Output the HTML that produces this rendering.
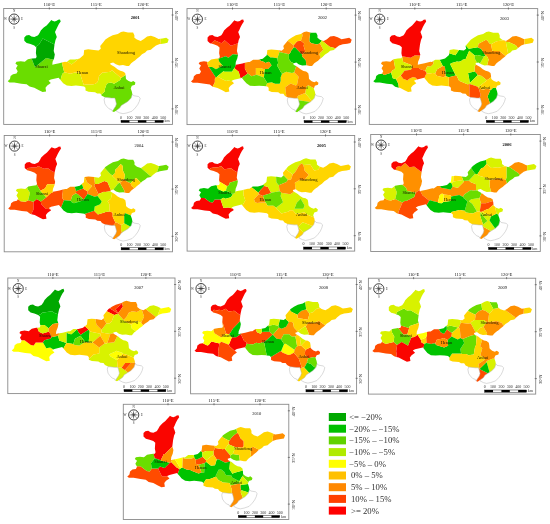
<!DOCTYPE html>
<html><head><meta charset="utf-8"><style>
html,body{margin:0;padding:0;background:#fff;}
svg{display:block;filter:blur(0.3px);}
text{font-family:"Liberation Serif",serif;fill:#222;}
.tk{font-size:4.6px;fill:#111;}
.cp{font-size:3.2px;fill:#333;}
.yr{font-size:4.5px;fill:#111;}
.b{font-weight:bold;}
.sb{font-size:4.0px;fill:#333;}
.pv{font-size:4.5px;fill:#1a1400;}
.lg{font-size:8.7px;fill:#303030;}
</style></head><body>
<svg width="550" height="524" viewBox="0 0 550 524">
<rect width="550" height="524" fill="#fff"/>
<g transform="matrix(1.0000 0 0 1.0000 0.00 0.00)"><path fill="#6add00" d="M121,78.1 120.2,79.9 114.1,83.7 111.3,82.4 107.6,83.3 106.5,84.3 104.8,89.3 104.8,91.6 101.1,94.7 101.8,95.7 104.9,97.3 111.5,98.1 114.8,98.1 115.6,100.6 116.4,103.9 115.6,106.3 113.9,108.8 112.3,111.2 113.9,112 116.4,110.4 119.7,108 121.3,105.5 123.8,103.9 127.9,101.4 131.1,98.1 131.8,96 132.3,94.1 131.8,91.5 130.7,88.4 131.8,85.7 134.9,84.7 135.4,82.6 133.3,81 131.2,82 128.6,81 126.5,79.4 125.9,78.5 125.7,75.7 125.5,74.9ZM62.2,74 64.2,72.3 61.8,62.6 59.2,63.3 55.5,64 52.3,64.7 52.6,61.8 53.5,59.7 46.2,57.9 35.5,66.8 34.6,66.3 31.6,58.6 27.9,59.3 24.8,61.8 20.7,61.2 16.5,61.8 15.4,63.6 17.7,65.4 16,68.3 17.7,71.3 16.5,73.6 13,74.2 10.6,76 10,79 7.7,81.3 9.5,82.5 14.2,82.5 21.3,83.7 26.6,84.3 29.6,86.6 34.3,87.8 39,90.2 42.6,92 46.1,91.4 45.5,87.8 47.3,85.5 50.8,83.1 48.5,80.7 50.8,79.6 58.6,77.7 60.5,80Z"/><path fill="#00c300" d="M39,44.6 42.7,38.6 54.5,44.5 54.5,44.4 55.5,39.9 56.8,37 56.1,34.9 55,32 56.1,29.8 57.4,26.9 58.9,24.1 60.7,21.5 60,19.4 58.2,19.7 56.7,20.8 54.6,21.5 52.4,20.8 51.3,20.1 50.3,21.2 48.4,23.4 46.6,25.4 43.7,27.6 40.8,30.5 39.7,32.7 38.3,34.9 37.7,35.5 34.3,37 31.5,36.5 29.1,35 26.2,35.5 24.3,37.4 24.3,40.8 26.7,43.1 30.5,44.1 34.3,45.5 35.8,46.9Z"/><path fill="#00a800" d="M34.6,66.3 35.5,66.8 46.2,57.9 53.5,59.7 54.1,58.2 54.8,54.5 53.7,50.9 54.5,44.5 42.7,38.6 39,44.6 35.8,46.9 36.3,47.3 35.9,53.1 36.6,56.7 35.9,58.2 32.3,58.5 31.6,58.6Z"/><path fill="#d8f200" d="M71.6,64.4 78.7,58.7 75,59.6 69.9,59.6 67.2,61.4ZM60.5,80 60.5,80 63.2,83.2 66.8,85.5 71.4,85.9 75.9,85.5 80.5,85.9 84.1,86.4 85.5,87.7 85.5,90.5 88.6,91.8 95.1,92.2 97.1,93.5 100.3,93.6 101.1,94.7 104.8,91.6 104.8,89.3 106.5,84.3 107.6,83.3 111.3,82.4 114.1,83.7 120.2,79.9 121,78.1 112,70.3 110.4,71.7 102.9,72.7 102.4,72.6 99,76 98.4,79.8 97.6,82.1 95.5,83.8 94.5,83.9 94.2,83.9 92.7,84.5 85.3,84.5 83.8,85 79.6,72.5 77.5,72.8 74.8,72.4 70.5,73.7 64.2,72.3 62.2,74ZM160.9,44 164.3,43.5 167.5,42.8 168.7,39.6 166.2,37.7 162.4,38.4 160.3,38.7Z"/><path fill="#ffd500" d="M71.6,64.4 67.2,61.4 66.5,61.9 65,61.8 61.8,62.6 64.2,72.3 70.5,73.7 74.8,72.4 77.5,72.8 79.6,72.5 83.8,85 85.3,84.5 92.7,84.5 94.2,83.9 94.5,83.9 95.5,83.8 97.6,82.1 98.4,79.8 99,76 102.4,72.6 102.9,72.7 110.4,71.7 112,70.3 121,78.1 125.5,74.9 125.2,73 123,71.4 120.3,70.8 117.5,69.2 114.8,67 110.5,64.5 110.2,63.2 113.2,62.4 115.9,64.3 119.2,65.4 123,65.1 126.8,65.9 129,65.9 131.2,63.2 133.4,61.5 135,60.5 136.9,58.7 139.5,56.8 142,54.3 145.2,52.4 147.1,50.5 150.9,49.8 152.8,47.9 156,45.4 159.8,44.1 160.9,44 160.3,38.7 158.5,39 154.7,37.1 150.9,35.8 147.1,36.5 143.9,39 140.7,40.9 136.9,39.6 134.4,37.7 134.4,35.2 133.1,32.6 128,32.6 123.5,31.4 121,32 117.8,33.9 112.7,35.2 108.8,37.3 105.4,39.6 103.1,42.4 100.2,45.9 100.8,48.7 98.5,50.5 93.9,49.9 88.2,49.3 84.2,49.9 83.6,55 79.6,58.5 78.7,58.7Z"/><path fill="none" stroke="#b4b4b4" stroke-width="0.5" d="M104.9,97.3 111.5,98.1 114.8,98.1 115.6,100.6 116.4,103.9 115.6,106.3 113.9,108.8 112.3,111.2 111.5,109.6 109,108.8 106.6,106.3 104.9,103.9 104.1,99.8ZM132.3,94.1 133.6,95.7 138.5,96.5 140.2,98.1 139.3,101.4 137.7,104.7 135.2,108 132,111.2 127,112.9 123,113.7 119.7,112.9 116.4,111.2 116.4,110.4 119.7,108 121.3,105.5 123.8,103.9 127.9,101.4 131.1,98.1 131.8,96Z"/></g><rect x="3.7" y="8.5" width="168.8" height="115.9" fill="none" stroke="#8a8a8a" stroke-width="0.9"/><line x1="49.3" y1="7.3" x2="49.3" y2="9.5" stroke="#444" stroke-width="0.6"/><text x="49.3" y="6.1" class="tk" text-anchor="middle">110°E</text><line x1="96.2" y1="7.3" x2="96.2" y2="9.5" stroke="#444" stroke-width="0.6"/><text x="96.2" y="6.1" class="tk" text-anchor="middle">115°E</text><line x1="143.1" y1="7.3" x2="143.1" y2="9.5" stroke="#444" stroke-width="0.6"/><text x="143.1" y="6.1" class="tk" text-anchor="middle">120°E</text><line x1="171.5" y1="15.0" x2="173.7" y2="15.0" stroke="#444" stroke-width="0.6"/><text transform="translate(178.3 15.6) rotate(-90)" class="tk" text-anchor="middle">40°N</text><line x1="171.5" y1="62.0" x2="173.7" y2="62.0" stroke="#444" stroke-width="0.6"/><text transform="translate(178.3 62.6) rotate(-90)" class="tk" text-anchor="middle">35°N</text><line x1="171.5" y1="108.9" x2="173.7" y2="108.9" stroke="#444" stroke-width="0.6"/><text transform="translate(178.3 109.5) rotate(-90)" class="tk" text-anchor="middle">30°N</text><g transform="translate(14.1 19.1)"><circle r="5.1" fill="none" stroke="#3a3a3a" stroke-width="0.95"/><path d="M0,-5L0.55,-0.55L5,0L0.55,0.55L0,5L-0.55,0.55L-5,0L-0.55,-0.55Z" fill="#333"/><path d="M-3.6,-3.6L3.6,3.6M3.6,-3.6L-3.6,3.6" stroke="#555" stroke-width="0.5"/><text y="-7.1" class="cp" text-anchor="middle">N</text><text y="9.6" class="cp" text-anchor="middle">S</text><text x="8.0" y="1.1" class="cp" text-anchor="middle">E</text><text x="-8.6" y="1.1" class="cp" text-anchor="middle">W</text></g><text x="135.2" y="18.8" class="yr b" text-anchor="middle">2001</text><rect x="121.00" y="120.30" width="42.25" height="2.2" fill="#fff" stroke="#111" stroke-width="0.45"/><rect x="121.00" y="120.30" width="8.45" height="2.2" fill="#000"/><rect x="137.90" y="120.30" width="8.45" height="2.2" fill="#000"/><rect x="154.80" y="120.30" width="8.45" height="2.2" fill="#000"/><text x="121.0" y="118.7" class="sb" text-anchor="middle">0</text><text x="129.4" y="118.7" class="sb" text-anchor="middle">100</text><text x="137.9" y="118.7" class="sb" text-anchor="middle">200</text><text x="146.3" y="118.7" class="sb" text-anchor="middle">300</text><text x="154.8" y="118.7" class="sb" text-anchor="middle">400</text><text x="163.2" y="118.7" class="sb" text-anchor="middle">500</text><text x="164.4" y="122.4" class="sb">km</text><text x="41.5" y="67.5" class="pv" text-anchor="middle">Shanxi</text><text x="82.5" y="74.0" class="pv" text-anchor="middle">Henan</text><text x="126.0" y="54.0" class="pv" text-anchor="middle">Shandong</text><text x="119.0" y="89.0" class="pv" text-anchor="middle">Anhui</text><g transform="matrix(0.9982 0 0 1.0009 183.31 0.09)"><path fill="#ff4b00" d="M35.1,58.6 42.5,56.1 45.2,57.7 49.7,54 54.8,54.5 53.7,50.9 54.5,44.4 54.8,43.1 47.7,45.5 41.4,40.2 38.2,43 31.3,40 27.9,43.4 30.5,44.1 34.3,45.5 36.3,47.3 35.9,53.1 36.6,56.7 35.9,58.2 34.9,58.3ZM31.6,82.1 31.6,78.5 32.6,77.3 25.7,66.9 25,66.7 23.8,61.7 20.7,61.2 16.5,61.8 15.4,63.6 17.7,65.4 16,68.3 17.7,71.3 16.5,73.6 13,74.2 10.6,76 10,79 7.7,81.3 9.5,82.5 14.2,82.5 21.3,83.7 26.6,84.3 29.4,86.5ZM138.8,40.4 146.6,46.7 151.4,47.9 152.3,48.4 152.8,47.9 156,45.4 159.8,44.1 164.3,43.5 167.5,42.8 168.7,39.6 166.2,37.7 162.4,38.4 158.5,39 154.7,37.1 150.9,35.8 147.1,36.5 143.9,39 140.7,40.9 138.8,40.3ZM110.5,45.1 110.8,47 112.3,47.6 119.1,54.5 122.2,51.4 120.5,45.6 121.1,43.3 117.8,40.5 114,41Z"/><path fill="#fa0500" d="M31.3,40 38.2,43 41.4,40.2 47.7,45.5 54.8,43.1 55.5,39.9 56.8,37 56.1,34.9 55,32 56.1,29.8 57.4,26.9 58.9,24.1 60.7,21.5 60,19.4 58.2,19.7 56.7,20.8 54.6,21.5 52.4,20.8 51.3,20.1 50.3,21.2 48.4,23.4 46.6,25.4 43.7,27.6 40.8,30.5 39.7,32.7 38.3,34.9 37.7,35.5 34.3,37 31.5,36.5 29.1,35 26.2,35.5 24.3,37.4 24.3,40.8 26.7,43.1 27.9,43.4ZM64.5,73.5 61.7,68.6 61.7,62.7 59.2,63.3 55.5,64 52.7,64.6 51.2,68 55.5,71.6 57.3,78 58.6,77.7Z"/><path fill="#ffd500" d="M87.2,57.4 89.4,57.4 94.2,58 96.4,51.8 95.9,50.2 93.9,49.9 88.2,49.3 84.2,49.9 83.7,54.1 84.3,54.9ZM110.5,45.1 114,41 117.8,40.5 119.5,35.4 118.9,33.2 117.8,33.9 112.7,35.2 108.8,37.3 105.4,39.6 104.6,40.6ZM39.6,65.7 36,61.6 35.1,58.6 34.9,58.3 32.3,58.5 27.9,59.3 24.8,61.8 23.8,61.7 25,66.7 25.7,66.9 28.9,66.9 32.7,69.2ZM77.5,67.9 72.7,67.9 72.7,74.7 74.8,75 80.7,77.4 81.7,69.2 78.3,68.3ZM103.1,95.3 102.1,87 107.5,83.3 112.6,85.4 113.9,84.5 115.5,76.6 111,72.1 108.9,72.9 103.1,71.7 102.6,71.8 99.2,73.5 98.9,73.6 97.5,77.1 97.5,80.9 96.5,83.5 92,83.6 88.5,82.1 84.1,82.9 82.7,86.2 84.1,86.4 85.5,87.7 85.5,90.5 88.6,91.8 95.1,92.2 97.1,93.5 100.3,93.6 101.8,95.7 102.9,96.3ZM48.8,81 44.7,80.4 42.8,80.9 34,76.4 32.6,77.3 31.6,78.5 31.6,82.1 29.4,86.5 29.6,86.6 34.3,87.8 39,90.2 42.6,92 46.1,91.4 45.5,87.8 47.3,85.5 50.8,83.1 48.8,81ZM127.1,101.9 127.9,101.4 128.7,100.6 122.1,92.9 115,95.6 113.6,98.1 114.8,98.1 115.4,100Z"/><path fill="#00c300" d="M85.8,61.5 88.4,65 84.8,68.8 82.2,68.8 81.7,69.2 80.7,77.4 80.7,77.4 80.9,77.6 84.1,82.9 88.5,82.1 92,83.6 96.5,83.5 97.5,80.9 97.5,77.1 98.9,73.6 98.2,72.9 94.1,65.6 94,64.9 95,63 94.2,58.1 94.2,58 89.4,57.4 87.2,57.4 84.3,54.9 83.7,54.1 83.6,55 79.6,58.5 76.1,59.3 77.5,60.7 81,61.9 82.2,62.9ZM42.5,56.1 35.1,58.6 36,61.6 39.6,65.7 32.7,69.2 28.9,66.9 25.7,66.9 32.6,77.3 34,76.4 34.1,76.2 40.3,71 41.2,71.7 48.8,71.7 51,68.1 51.2,68 52.7,64.6 52.3,64.7 52.6,61.8 54.1,58.2 54.8,54.5 54.8,54.5 49.7,54 45.2,57.7ZM126.3,38.8 126.3,38.8 126.3,41.3 128.4,43.2 134.2,44.4 136.8,43.1 138.8,40.4 138.8,40.3 136.9,39.6 134.4,37.7 134.4,35.2 133.1,32.6 128,32.6 127.2,32.4ZM110.7,63.1 113.2,62.4 115.9,64.3 119.2,65.4 123,65.1 123.3,65.2 122.7,60 118.8,56 119.1,54.5 112.3,47.6 110.8,47 107.8,50.8 107.2,52.6 105.8,54.2 105.8,58.5 105.9,59.2 108,61.8ZM113,66.3 113.8,66.4 112.8,65.8Z"/><path fill="#d8f200" d="M137.8,58 139.5,56.8 142,54.3 145.2,52.4 147.1,50.5 150.9,49.8 152.3,48.4 151.4,47.9 146.6,46.7 138.8,40.4 136.8,43.1 140.2,49.7 136.1,53.8ZM48.8,81 48.8,81 48.5,80.7 50.8,79.6 57.3,78 55.5,71.6 51.2,68 51,68.1 48.8,71.7 41.2,71.7 40.3,71 34.1,76.2 34,76.4 42.8,80.9 44.7,80.4ZM122.1,92.9 128.7,100.6 131.1,98.1 131.8,96 132.3,94.1 131.8,91.5 130.7,88.4 130.9,88 125.3,85.2 123.4,86.4Z"/><path fill="#ff9000" d="M107.8,50.8 110.8,47 110.5,45.1 104.6,40.6 103.1,42.4 100.2,45.9 100.8,48.7 98.5,50.5 95.9,50.2 96.4,51.8 105.8,54.2 107.2,52.6ZM64.5,73.5 65,73.6 68.3,76 71.9,75.2 72.7,74.7 72.7,67.9 77.5,67.9 78.3,68.3 81.7,69.2 82.2,68.8 84.8,68.8 88.4,65 85.8,61.5 82.2,62.9 81,61.9 77.5,60.7 76.1,59.3 75,59.6 69.9,59.6 66.5,61.9 65,61.8 61.7,62.7 61.7,68.6ZM111,72.1 115.5,76.6 113.9,84.5 112.6,85.4 107.5,83.3 102.1,87 103.1,95.3 102.9,96.3 104.9,97.3 111.5,98.1 113.6,98.1 115,95.6 122.1,92.9 123.4,86.4 125.3,85.2 130.9,88 131.8,85.7 134.9,84.7 135.4,82.6 133.3,81 131.2,82 128.6,81 126.5,79.4 125.9,78.5 125.7,75.7 125.2,73 123,71.4 120.3,70.8 117.5,69.2 114.8,67 113.8,66.4 113,66.3ZM136.1,53.8 140.2,49.7 136.8,43.1 134.2,44.4 128.4,43.2 126.3,41.3 126.3,38.8 126.3,38.8 127.2,32.4 123.5,31.4 121,32 118.9,33.2 119.5,35.4 117.8,40.5 121.1,43.3 120.5,45.6 122.2,51.4 119.1,54.5 118.8,56 122.7,60 123.3,65.2 126.8,65.9 129,65.9 131.2,63.2 133.4,61.5 135,60.5 136.9,58.7 137.8,58Z"/><path fill="#6add00" d="M96.4,51.8 94.2,58 94.2,58.1 95,63 94,64.9 94.1,65.6 98.2,72.9 98.9,73.6 99.2,73.5 102.6,71.8 103.1,71.7 108.9,72.9 111,72.1 113,66.3 112.8,65.8 110.5,64.5 110.2,63.2 110.7,63.1 108,61.8 105.9,59.2 105.8,58.5 105.8,54.2ZM72.7,74.7 71.9,75.2 68.3,76 65,73.6 64.5,73.5 58.6,77.7 58.6,77.7 60.5,80 63.2,83.2 66.8,85.5 71.4,85.9 75.9,85.5 80.5,85.9 82.7,86.2 84.1,82.9 80.9,77.6 80.7,77.4 80.7,77.4 74.8,75ZM115.4,100 115.6,100.6 116.4,103.9 115.6,106.3 113.9,108.8 112.3,111.2 113.9,112 116.4,110.4 119.7,108 121.3,105.5 123.8,103.9 127.1,101.9Z"/><path fill="none" stroke="#b4b4b4" stroke-width="0.5" d="M104.9,97.3 111.5,98.1 114.8,98.1 115.6,100.6 116.4,103.9 115.6,106.3 113.9,108.8 112.3,111.2 111.5,109.6 109,108.8 106.6,106.3 104.9,103.9 104.1,99.8ZM132.3,94.1 133.6,95.7 138.5,96.5 140.2,98.1 139.3,101.4 137.7,104.7 135.2,108 132,111.2 127,112.9 123,113.7 119.7,112.9 116.4,111.2 116.4,110.4 119.7,108 121.3,105.5 123.8,103.9 127.9,101.4 131.1,98.1 131.8,96Z"/></g><rect x="187.0" y="8.6" width="168.5" height="116.0" fill="none" stroke="#8a8a8a" stroke-width="0.9"/><line x1="232.5" y1="7.4" x2="232.5" y2="9.6" stroke="#444" stroke-width="0.6"/><text x="232.5" y="6.2" class="tk" text-anchor="middle">110°E</text><line x1="279.3" y1="7.4" x2="279.3" y2="9.6" stroke="#444" stroke-width="0.6"/><text x="279.3" y="6.2" class="tk" text-anchor="middle">115°E</text><line x1="326.2" y1="7.4" x2="326.2" y2="9.6" stroke="#444" stroke-width="0.6"/><text x="326.2" y="6.2" class="tk" text-anchor="middle">120°E</text><line x1="354.5" y1="15.1" x2="356.7" y2="15.1" stroke="#444" stroke-width="0.6"/><text transform="translate(361.3 15.7) rotate(-90)" class="tk" text-anchor="middle">40°N</text><line x1="354.5" y1="62.1" x2="356.7" y2="62.1" stroke="#444" stroke-width="0.6"/><text transform="translate(361.3 62.7) rotate(-90)" class="tk" text-anchor="middle">35°N</text><line x1="354.5" y1="109.1" x2="356.7" y2="109.1" stroke="#444" stroke-width="0.6"/><text transform="translate(361.3 109.7) rotate(-90)" class="tk" text-anchor="middle">30°N</text><g transform="translate(197.4 19.2)"><circle r="5.1" fill="none" stroke="#3a3a3a" stroke-width="0.95"/><path d="M0,-5L0.55,-0.55L5,0L0.55,0.55L0,5L-0.55,0.55L-5,0L-0.55,-0.55Z" fill="#333"/><path d="M-3.6,-3.6L3.6,3.6M3.6,-3.6L-3.6,3.6" stroke="#555" stroke-width="0.5"/><text y="-7.1" class="cp" text-anchor="middle">N</text><text y="9.6" class="cp" text-anchor="middle">S</text><text x="8.0" y="1.1" class="cp" text-anchor="middle">E</text><text x="-8.6" y="1.1" class="cp" text-anchor="middle">W</text></g><text x="322.4" y="19.3" class="yr" text-anchor="middle">2002</text><rect x="304.09" y="120.50" width="42.17" height="2.2" fill="#fff" stroke="#111" stroke-width="0.45"/><rect x="304.09" y="120.50" width="8.43" height="2.2" fill="#000"/><rect x="320.96" y="120.50" width="8.43" height="2.2" fill="#000"/><rect x="337.83" y="120.50" width="8.43" height="2.2" fill="#000"/><text x="304.1" y="118.9" class="sb" text-anchor="middle">0</text><text x="312.5" y="118.9" class="sb" text-anchor="middle">100</text><text x="321.0" y="118.9" class="sb" text-anchor="middle">200</text><text x="329.4" y="118.9" class="sb" text-anchor="middle">300</text><text x="337.8" y="118.9" class="sb" text-anchor="middle">400</text><text x="346.3" y="118.9" class="sb" text-anchor="middle">500</text><text x="347.5" y="122.6" class="sb">km</text><text x="224.7" y="67.7" class="pv" text-anchor="middle">Shanxi</text><text x="265.7" y="74.2" class="pv" text-anchor="middle">Henan</text><text x="309.1" y="54.1" class="pv" text-anchor="middle">Shandong</text><text x="302.1" y="89.2" class="pv" text-anchor="middle">Anhui</text><g transform="matrix(0.9976 0 0 0.9991 365.61 0.11)"><path fill="#00c300" d="M83.4,77.3 90.4,75.5 84.8,64.3 85.5,63.1 91.6,61.4 93.3,61.8 95.5,61.3 97.3,59.7 100.3,58.9 103.8,50.6 109.7,55.8 111.9,54.9 118.7,56.4 120.2,55.7 115.8,48.7 113.1,47.7 112.5,47.2 103.4,48.7 100.5,45.5 100.2,45.9 100.8,48.7 98.5,50.5 93.9,49.9 93.6,49.9 90,55.2 83.8,53.2 83.6,55 79.6,58.5 75,59.6 74.2,59.6 77.4,65.9 79.5,66.7 80.4,76.2ZM32.8,83.6 30.6,79.2 27.2,78.3 25.6,72.6 18.6,75 16.5,73.5 16.5,73.6 13,74.2 10.6,76 10,79 7.7,81.3 9.5,82.5 14.2,82.5 21.3,83.7 26.6,84.3 29.6,86.6 33.3,87.6ZM112.5,74.9 111,72.9 110.3,72.3 109.3,71.4 102.7,73 103.9,79.2 104.4,83ZM127.7,87.7 125.8,89.6 125.2,89.7 122.2,96.5 122.9,98.2 124.7,103.4 127.9,101.4 131.1,98.1 131.8,96 132.3,94.1 131.8,91.5 130.7,88.4 130.9,87.9Z"/><path fill="#ff9000" d="M68.1,63.7 68.1,60.8 66.5,61.9 65,61.8 59.2,63.3 55.5,64 52.3,64.7 52.6,61.8 54.1,58.2 54.6,55.4 49.5,55.1 45.1,57.6 36.5,56.3 37.5,61.6 45.7,64.9 46.5,68 53.4,68 54.2,69 57.1,69.9 59.8,71 61.7,66.5 63,66.4 65.2,66.6ZM28,59.3 27.9,59.3 24.8,61.8 20.7,61.2 16.5,61.8 15.4,63.6 17.7,65.4 16,68.3 17.7,71.3 16.5,73.5 18.6,75 25.6,72.6 26.4,70.9 27.5,69.9 28.3,69.6 29.7,68.1ZM109.3,65.8 109.3,71.4 110.3,72.3 111,72.9 112.5,74.9 115.2,75.8 115.9,75.8 121.2,80 122.4,79.7 125.8,77.3 125.7,75.7 125.2,73 123,71.4 120.3,70.8 117.5,69.2 114.8,67 110.8,64.7ZM134.1,51 127.4,51 127,50.8 125.7,44.3 124,43.2 122.3,40.8 120.7,39.8 113.1,43.6 112.5,47.2 113.1,47.7 115.8,48.7 120.2,55.7 121.4,55.7 123.3,59.4 121.8,65.2 123,65.1 126.8,65.9 129,65.9 131.2,63.2 133.4,61.5 135,60.5 136.9,58.7 139.5,56.8 140.3,56ZM71.7,69.1 69.7,73.3 71.3,75.6 77.7,77.1 80.4,76.2 79.5,66.7 77.4,65.9ZM90.4,75.5 83.4,77.3 83.4,86.3 84.1,86.4 85.5,87.7 85.5,90.5 88.6,91.8 95.1,92.2 97.1,93.5 100.3,93.6 101.8,95.7 104,96.8 104,84 102,84.2 93.7,80.6 91.3,75.7ZM122.9,98.2 122.2,96.5 125.2,89.7 122.1,88.4 118.2,89.4 113.5,88.8 115.4,95.3 114,98.1 114.8,98.1 115.6,100.6 116.4,103.9 115.6,106.3 113.9,108.8 112.3,111.2 113.9,112 116.4,110.4 119.7,108 121.3,105.5 123.8,103.9 124.7,103.4ZM150.6,45.3 152.6,48.1 152.8,47.9 156,45.4 159.2,44.3 159.2,38.9 158.5,39 154.7,37.1 150.9,35.8 147.1,36.5 143.9,39 140.7,40.9 138.8,40.3 139.2,40.8 140.5,41.6 144,42.1Z"/><path fill="#fa0500" d="M36.5,56.3 45.1,57.6 49.5,55.1 54.6,55.4 54.8,54.5 53.7,50.9 54.5,44.4 55.5,39.9 56.8,37 56.1,34.9 55,32 56.1,29.8 57.4,26.9 58.9,24.1 60.7,21.5 60,19.4 58.2,19.7 56.7,20.8 54.6,21.5 52.4,20.8 51.3,20.1 50.3,21.2 48.4,23.4 46.6,25.4 43.7,27.6 40.8,30.5 39.7,32.7 38.3,34.9 37.7,35.5 34.3,37 31.5,36.5 29.1,35 26.2,35.5 24.3,37.4 24.3,40.8 26.7,43.1 30.5,44.1 34.3,45.5 36.3,47.3 35.9,53.1 36.5,56.2Z"/><path fill="#d8f200" d="M90,55.2 93.6,49.9 88.2,49.3 84.2,49.9 83.8,53.2ZM103.4,48.7 112.5,47.2 113.1,43.6 120.7,39.8 122.3,40.8 124,43.2 125.7,44.3 131.3,41.1 138.6,40.2 136.9,39.6 134.4,37.7 134.4,35.2 133.1,32.6 128,32.6 123.5,31.4 121,32 117.8,33.9 112.7,35.2 108.8,37.3 105.4,39.6 103.1,42.4 100.5,45.5ZM68.1,63.7 65.2,66.6 63,66.4 61.7,66.5 59.8,71 61.2,73.3 64.3,73.5 66.9,72.9 69.7,73.3 71.7,69.1 77.4,65.9 74.2,59.6 69.9,59.6 68.1,60.8ZM45.7,64.9 37.5,61.6 36.5,56.3 36.5,56.2 36.6,56.7 35.9,58.2 32.3,58.5 28,59.3 29.7,68.1 28.3,69.6 27.5,69.9 26.4,70.9 25.6,72.6 27.2,78.3 30.6,79.2 34.3,75.6 35.3,75.5 38.5,71.5 38.7,70.6 45.4,69.6 46.5,68ZM91.6,61.4 85.5,63.1 84.8,64.3 90.4,75.5 91.3,75.7 93.7,80.6 102,84.2 104,84 104.1,83.9 104.2,83.9 111.7,86.5 112.6,87.1 120.7,81 121.2,80 115.9,75.8 115.2,75.8 112.5,74.9 104.4,83 103.9,79.2 102.7,73 109.3,71.4 109.3,65.8 110.8,64.7 110.5,64.5 110.2,63.2 111.6,62.8 109.2,58.3 109.7,55.8 103.8,50.6 100.3,58.9 97.3,59.7 95.5,61.3 93.3,61.8ZM150.6,45.3 144,42.1 140.5,41.6 142.9,53.8 145.2,52.4 147.1,50.5 150.9,49.8 152.6,48.1ZM121.4,55.7 120.2,55.7 118.7,56.4 114.6,63.4 115.9,64.3 119.2,65.4 121.8,65.2 123.3,59.4Z"/><path fill="#ffd500" d="M32.8,83.6 33.3,87.6 34.3,87.8 39,90.2 42.6,92 46.1,91.4 45.5,87.8 47.3,85.5 50.8,83.1 48.5,80.7 50.8,79.6 51.7,79.4 50.3,77.8 47.5,76.9 43.4,78.9 42.1,80.5 37.7,78.7 35.3,75.5 34.3,75.6 30.6,79.2ZM83.4,77.3 80.4,76.2 77.7,77.1 71.3,75.6 69.7,73.3 66.9,72.9 64.3,73.5 61.2,73.3 60.2,75 58.9,78 60.5,80 63.2,83.2 66.8,85.5 71.4,85.9 75.9,85.5 80.5,85.9 83.4,86.3ZM113.5,88.8 113.5,88.8 118.2,89.4 122.1,88.4 125.2,89.7 125.8,89.6 127.7,87.7 130.9,87.9 131.8,85.7 134.9,84.7 135.4,82.6 133.3,81 131.2,82 128.6,81 126.5,79.4 125.9,78.5 125.8,77.3 122.4,79.7 121.2,80 120.7,81 112.6,87.1ZM159.2,44.3 159.8,44.1 164.3,43.5 167.5,42.8 168.7,39.6 166.2,37.7 162.4,38.4 159.2,38.9ZM140.5,41.6 139.2,40.8 138.8,40.3 138.6,40.2 131.3,41.1 125.7,44.3 127,50.8 127.4,51 134.1,51 140.3,56 142,54.3 142.9,53.8Z"/><path fill="#ff4b00" d="M57.1,69.9 54.2,69 53.4,68 46.5,68 45.4,69.6 38.7,70.6 38.5,71.5 35.3,75.5 37.7,78.7 42.1,80.5 43.4,78.9 47.5,76.9 50.3,77.8 51.7,79.4 58.6,77.7 58.9,78 60.2,75 61.2,73.3 59.8,71ZM104.2,83.9 104.1,83.9 104,84 104,96.8 104.9,97.3 111.5,98.1 114,98.1 115.4,95.3 113.5,88.8 113.5,88.8 112.6,87.1 111.7,86.5Z"/><path fill="#6add00" d="M109.2,58.3 111.6,62.8 113.2,62.4 114.6,63.4 118.7,56.4 111.9,54.9 109.7,55.8Z"/><path fill="none" stroke="#b4b4b4" stroke-width="0.5" d="M104.9,97.3 111.5,98.1 114.8,98.1 115.6,100.6 116.4,103.9 115.6,106.3 113.9,108.8 112.3,111.2 111.5,109.6 109,108.8 106.6,106.3 104.9,103.9 104.1,99.8ZM132.3,94.1 133.6,95.7 138.5,96.5 140.2,98.1 139.3,101.4 137.7,104.7 135.2,108 132,111.2 127,112.9 123,113.7 119.7,112.9 116.4,111.2 116.4,110.4 119.7,108 121.3,105.5 123.8,103.9 127.9,101.4 131.1,98.1 131.8,96Z"/></g><rect x="369.3" y="8.6" width="168.4" height="115.8" fill="none" stroke="#8a8a8a" stroke-width="0.9"/><line x1="414.8" y1="7.4" x2="414.8" y2="9.6" stroke="#444" stroke-width="0.6"/><text x="414.8" y="6.2" class="tk" text-anchor="middle">110°E</text><line x1="461.6" y1="7.4" x2="461.6" y2="9.6" stroke="#444" stroke-width="0.6"/><text x="461.6" y="6.2" class="tk" text-anchor="middle">115°E</text><line x1="508.4" y1="7.4" x2="508.4" y2="9.6" stroke="#444" stroke-width="0.6"/><text x="508.4" y="6.2" class="tk" text-anchor="middle">120°E</text><line x1="536.7" y1="15.1" x2="538.9" y2="15.1" stroke="#444" stroke-width="0.6"/><text transform="translate(543.5 15.7) rotate(-90)" class="tk" text-anchor="middle">40°N</text><line x1="536.7" y1="62.0" x2="538.9" y2="62.0" stroke="#444" stroke-width="0.6"/><text transform="translate(543.5 62.6) rotate(-90)" class="tk" text-anchor="middle">35°N</text><line x1="536.7" y1="108.9" x2="538.9" y2="108.9" stroke="#444" stroke-width="0.6"/><text transform="translate(543.5 109.5) rotate(-90)" class="tk" text-anchor="middle">30°N</text><g transform="translate(379.7 19.2)"><circle r="5.1" fill="none" stroke="#3a3a3a" stroke-width="0.95"/><path d="M0,-5L0.55,-0.55L5,0L0.55,0.55L0,5L-0.55,0.55L-5,0L-0.55,-0.55Z" fill="#333"/><path d="M-3.6,-3.6L3.6,3.6M3.6,-3.6L-3.6,3.6" stroke="#555" stroke-width="0.5"/><text y="-7.1" class="cp" text-anchor="middle">N</text><text y="9.6" class="cp" text-anchor="middle">S</text><text x="8.0" y="1.1" class="cp" text-anchor="middle">E</text><text x="-8.6" y="1.1" class="cp" text-anchor="middle">W</text></g><text x="504.6" y="19.6" class="yr" text-anchor="middle">2003</text><rect x="486.32" y="120.31" width="42.15" height="2.2" fill="#fff" stroke="#111" stroke-width="0.45"/><rect x="486.32" y="120.31" width="8.43" height="2.2" fill="#000"/><rect x="503.18" y="120.31" width="8.43" height="2.2" fill="#000"/><rect x="520.04" y="120.31" width="8.43" height="2.2" fill="#000"/><text x="486.3" y="118.7" class="sb" text-anchor="middle">0</text><text x="494.8" y="118.7" class="sb" text-anchor="middle">100</text><text x="503.2" y="118.7" class="sb" text-anchor="middle">200</text><text x="511.6" y="118.7" class="sb" text-anchor="middle">300</text><text x="520.0" y="118.7" class="sb" text-anchor="middle">400</text><text x="528.5" y="118.7" class="sb" text-anchor="middle">500</text><text x="529.7" y="122.4" class="sb">km</text><text x="407.0" y="67.5" class="pv" text-anchor="middle">Shanxi</text><text x="447.9" y="74.0" class="pv" text-anchor="middle">Henan</text><text x="491.3" y="54.1" class="pv" text-anchor="middle">Shandong</text><text x="484.3" y="89.0" class="pv" text-anchor="middle">Anhui</text><g transform="matrix(0.9970 0 0 1.0035 0.51 126.97)"><path fill="#ff4b00" d="M49.9,66.2 46.1,70 46,70 40.4,74.2 40.9,77 45.4,81.5 49.8,82.1 48.5,80.7 50.8,79.6 58.6,77.7 60.5,80 60.8,80.3 63.7,72.9 62.2,71.3 61.8,69 62.5,64.7 62.6,62.4 59.2,63.3 55.5,64 52.6,64.6 52.2,65.4ZM52.5,44.6 47.6,41.1 43.6,41.7 37.7,38.8 36.3,40.2 31.6,40.4 31.5,40.4 27.4,40.8 25.9,42.3 26.7,43.1 30.5,44.1 34.3,45.5 36.3,47.3 35.9,53.1 36.6,56.7 36.3,57.3 40,63.5 44.8,61.1 46.8,57.1 54.3,57.1 54.8,54.5 53.7,50.9 54.4,44.9ZM33.1,82.2 33.1,74.4 27.7,73 25.1,74.6 20.1,73.9 19.5,73.2 17.3,72 16.5,73.6 13,74.2 10.6,76 10,79 7.7,81.3 9.5,82.5 14.2,82.5 21.3,83.7 26.6,84.3 29.6,86.6 30.9,86.9 31,86.4ZM105.9,54.5 104.3,53.9 97.7,56.9 94.8,56.9 93.9,58.1 98.2,66.8 103.8,64.5 104.7,64.8 110.4,64 110.2,63.2 110.8,63 107.1,54.6ZM83.1,61.3 82.1,61.6 75.9,63.9 75.6,66 77.8,67.3 83.5,72.2 87.4,66.9 87.3,64.1 84.6,62.5ZM84.9,86.5 84.7,87 85.5,87.7 85.5,90.5 88.6,91.8 95.1,92.2 97.1,93.5 100.3,93.6 101.8,95.7 104.9,97.3 111.5,98.1 113.1,98.1 115.3,95.4 112.5,89.5 112.5,86.8 112.3,85.3 109.2,84.3 105.4,84.7 105,84.8 105,84.9 97.7,87.3 93.9,83.5Z"/><path fill="#fa0500" d="M27.4,40.8 31.5,40.4 31.6,40.4 36.3,40.2 37.7,38.8 43.6,41.7 47.6,41.1 52.5,44.6 54.4,44.9 54.5,44.4 55.5,39.9 56.8,37 56.1,34.9 55,32 56.1,29.8 57.4,26.9 58.9,24.1 60.7,21.5 60,19.4 58.2,19.7 56.7,20.8 54.6,21.5 52.4,20.8 51.3,20.1 50.3,21.2 48.4,23.4 46.6,25.4 43.7,27.6 40.8,30.5 39.7,32.7 38.3,34.9 37.7,35.5 34.3,37 31.5,36.5 29.1,35 26.2,35.5 24.3,37.4 24.3,40.8 25.9,42.3ZM45.4,81.5 40.9,77 40.4,74.2 36.4,71.8 33.1,74.4 33.1,82.2 31,86.4 30.9,86.9 34.3,87.8 39,90.2 42.6,92 46.1,91.4 45.5,87.8 47.3,85.5 50.8,83.1 49.8,82.1Z"/><path fill="#d8f200" d="M97.7,56.9 104.3,53.9 105.9,54.5 107.1,54.6 110.8,63 113.2,62.4 113.2,62.4 116.3,58.5 116.6,57.9 119.2,55.7 112.2,48.9 112.3,48.4 109.6,46.3 104.6,40.8 104.5,40.7 103.1,42.4 100.2,45.9 100.8,48.7 98.5,50.5 93.9,49.9 93.8,49.9 94.8,56.9ZM104.7,64.8 103.8,64.5 98.2,66.8 97.3,68.7 101.5,74.3 99.9,77.1 94.5,79.2 93.9,83.5 97.7,87.3 105,84.9 105,84.8 105.4,84.7 109.2,84.3 109.2,77 107.4,73.9 110.7,71.5 112.1,65.4 110.5,64.5 110.4,64ZM19.5,73.2 20.1,73.9 25.1,74.6 27.7,73 29.6,65.5 27.1,61.7 26.7,60.2 24.8,61.8 20.7,61.2 16.5,61.8 15.4,63.6 17.7,65.4 16,68.3 17.7,71.3 17.3,72ZM151.1,49.6 152.8,47.9 156,45.4 157,45 159.1,38.9 158.5,39 154.7,37.1 150.9,35.8 147.1,36.5 143.9,39 140.9,40.8ZM121,103.4 122,105.1 123.8,103.9 127.9,101.4 130.1,99.1 124.1,96 121,97.6Z"/><path fill="#6add00" d="M114.6,46.4 115.5,41.8 116.7,41.5 120.5,37 122.6,39 122.6,43.2 124.6,47.4 124.8,47.6 124,52.1 126.7,54.3 130.4,56.1 135.2,51.2 136.6,51.2 140.8,55.5 142,54.3 145.2,52.4 147.1,50.5 150.9,49.8 151.1,49.6 140.9,40.8 140.7,40.9 136.9,39.6 134.4,37.7 134.4,35.2 133.1,32.6 128,32.6 123.5,31.4 121,32 117.8,33.9 112.7,35.2 108.8,37.3 105.4,39.6 104.5,40.7 104.6,40.8 109.6,46.3 112.3,48.4ZM157,45 159.8,44.1 164.3,43.5 167.5,42.8 168.7,39.6 166.2,37.7 162.4,38.4 159.1,38.9ZM33.1,74.4 36.4,71.8 40.4,74.2 46,70 40,63.9 40,63.5 36.3,57.3 35.9,58.2 32.3,58.5 27.9,59.3 26.7,60.2 27.1,61.7 29.6,65.5 27.7,73ZM124.3,63.5 119.8,55.6 119.2,55.7 116.6,57.9 116.3,58.5 113.2,62.4 115.9,64.3 119.2,65.4 123,65.1 124.1,65.3ZM83.4,72.9 83.5,72.2 77.8,67.3 75.6,66 72.2,68.2 71.7,69.4 70.3,73.4 71.5,75 73.7,76Z"/><path fill="#ffd500" d="M87.3,64.1 92,58.8 87.1,55.6 84.5,49.9 84.2,49.9 83.6,55 81.1,57.2 82.2,58.4 83.1,61.3 84.6,62.5ZM40,63.5 40,63.9 46,70 46.1,70 49.9,66.2 52.2,65.4 52.6,64.6 52.3,64.7 52.6,61.8 54.1,58.2 54.3,57.1 46.8,57.1 44.8,61.1ZM109.2,77 109.2,84.3 112.3,85.3 112.5,86.8 112.5,89.5 115.3,95.4 116.4,95.3 121,97.6 124.1,96 124.1,89.2 124,88.5 125,86.1 125.2,86 130.8,88.2 131.8,85.7 134.9,84.7 135.4,82.6 133.3,81 131.2,82 128.6,81 126.5,79.4 125.9,78.5 125.7,75.7 125.2,73 123,71.4 120.3,70.8 117.5,69.2 114.8,67 112.1,65.4 110.7,71.5 107.4,73.9ZM136.6,51.2 135.2,51.2 130.4,56.1 131.5,58.8 134.2,61 135,60.5 136.9,58.7 139.5,56.8 140.8,55.5ZM114.6,46.4 112.3,48.4 112.2,48.9 119.2,55.7 119.8,55.6 124,52.1 124.8,47.6 124.6,47.4 122.6,43.2 122.6,39 120.5,37 116.7,41.5 115.5,41.8Z"/><path fill="#ff9000" d="M87.3,64.1 87.4,66.9 94.4,69.6 97.3,68.7 98.2,66.8 93.9,58.1 94.8,56.9 93.8,49.9 88.2,49.3 84.5,49.9 87.1,55.6 92,58.8ZM62.5,64.7 61.8,69 62.2,71.3 63.7,72.9 70.3,73.4 71.7,69.4 72.2,68.2 75.6,66 75.9,63.9 74.5,60.1 74.4,59.6 69.9,59.6 66.5,61.9 65,61.8 62.6,62.4ZM124,52.1 119.8,55.6 124.3,63.5 124.1,65.3 126.8,65.9 129,65.9 131.2,63.2 133.4,61.5 134.2,61 131.5,58.8 130.4,56.1 126.7,54.3ZM121,103.4 121,97.6 116.4,95.3 115.3,95.4 113.1,98.1 114.8,98.1 115.6,100.6 116.4,103.9 115.6,106.3 113.9,108.8 112.3,111.2 113.9,112 116.4,110.4 119.7,108 121.3,105.5 122,105.1Z"/><path fill="#00c300" d="M82.1,61.6 83.1,61.3 82.2,58.4 81.1,57.2 79.6,58.5 75,59.6 74.4,59.6 74.5,60.1 75.9,63.9ZM71.5,75 70.3,73.4 63.7,72.9 60.8,80.3 63.2,83.2 66.8,85.5 71.4,85.9 75.9,85.5 80.5,85.9 84.1,86.4 84.7,87 84.9,86.5 93.9,83.5 94.5,79.2 99.9,77.1 101.5,74.3 97.3,68.7 94.4,69.6 87.4,66.9 83.5,72.2 83.4,72.9 73.7,76ZM125.2,86 125,86.1 124,88.5 124.1,89.2 124.1,96 130.1,99.1 131.1,98.1 131.8,96 132.3,94.1 131.8,91.5 130.7,88.4 130.8,88.2Z"/><path fill="none" stroke="#b4b4b4" stroke-width="0.5" d="M104.9,97.3 111.5,98.1 114.8,98.1 115.6,100.6 116.4,103.9 115.6,106.3 113.9,108.8 112.3,111.2 111.5,109.6 109,108.8 106.6,106.3 104.9,103.9 104.1,99.8ZM132.3,94.1 133.6,95.7 138.5,96.5 140.2,98.1 139.3,101.4 137.7,104.7 135.2,108 132,111.2 127,112.9 123,113.7 119.7,112.9 116.4,111.2 116.4,110.4 119.7,108 121.3,105.5 123.8,103.9 127.9,101.4 131.1,98.1 131.8,96Z"/></g><rect x="4.2" y="135.5" width="168.3" height="116.3" fill="none" stroke="#8a8a8a" stroke-width="0.9"/><line x1="49.6" y1="134.3" x2="49.6" y2="136.5" stroke="#444" stroke-width="0.6"/><text x="49.6" y="133.1" class="tk" text-anchor="middle">110°E</text><line x1="96.4" y1="134.3" x2="96.4" y2="136.5" stroke="#444" stroke-width="0.6"/><text x="96.4" y="133.1" class="tk" text-anchor="middle">115°E</text><line x1="143.2" y1="134.3" x2="143.2" y2="136.5" stroke="#444" stroke-width="0.6"/><text x="143.2" y="133.1" class="tk" text-anchor="middle">120°E</text><line x1="171.5" y1="142.0" x2="173.7" y2="142.0" stroke="#444" stroke-width="0.6"/><text transform="translate(178.3 142.6) rotate(-90)" class="tk" text-anchor="middle">40°N</text><line x1="171.5" y1="189.1" x2="173.7" y2="189.1" stroke="#444" stroke-width="0.6"/><text transform="translate(178.3 189.7) rotate(-90)" class="tk" text-anchor="middle">35°N</text><line x1="171.5" y1="236.3" x2="173.7" y2="236.3" stroke="#444" stroke-width="0.6"/><text transform="translate(178.3 236.9) rotate(-90)" class="tk" text-anchor="middle">30°N</text><g transform="translate(14.6 146.1)"><circle r="5.1" fill="none" stroke="#3a3a3a" stroke-width="0.95"/><path d="M0,-5L0.55,-0.55L5,0L0.55,0.55L0,5L-0.55,0.55L-5,0L-0.55,-0.55Z" fill="#333"/><path d="M-3.6,-3.6L3.6,3.6M3.6,-3.6L-3.6,3.6" stroke="#555" stroke-width="0.5"/><text y="-7.1" class="cp" text-anchor="middle">N</text><text y="9.6" class="cp" text-anchor="middle">S</text><text x="8.0" y="1.1" class="cp" text-anchor="middle">E</text><text x="-8.6" y="1.1" class="cp" text-anchor="middle">W</text></g><text x="138.9" y="146.5" class="yr" text-anchor="middle">2004</text><rect x="121.15" y="247.69" width="42.12" height="2.2" fill="#fff" stroke="#111" stroke-width="0.45"/><rect x="121.15" y="247.69" width="8.42" height="2.2" fill="#000"/><rect x="138.00" y="247.69" width="8.42" height="2.2" fill="#000"/><rect x="154.85" y="247.69" width="8.42" height="2.2" fill="#000"/><text x="121.2" y="246.1" class="sb" text-anchor="middle">0</text><text x="129.6" y="246.1" class="sb" text-anchor="middle">100</text><text x="138.0" y="246.1" class="sb" text-anchor="middle">200</text><text x="146.4" y="246.1" class="sb" text-anchor="middle">300</text><text x="154.9" y="246.1" class="sb" text-anchor="middle">400</text><text x="163.3" y="246.1" class="sb" text-anchor="middle">500</text><text x="164.5" y="249.8" class="sb">km</text><text x="41.9" y="194.7" class="pv" text-anchor="middle">Shanxi</text><text x="82.8" y="201.2" class="pv" text-anchor="middle">Henan</text><text x="126.1" y="181.2" class="pv" text-anchor="middle">Shandong</text><text x="119.2" y="216.3" class="pv" text-anchor="middle">Anhui</text><g transform="matrix(0.9929 0 0 0.9974 183.43 127.02)"><path fill="#fa0500" d="M31.7,40.3 32.1,40.6 35.1,40.4 37.9,39 41.3,42.4 47.9,41.3 52.8,44.8 54.4,45.1 54.5,44.4 55.5,39.9 56.8,37 56.1,34.9 55,32 56.1,29.8 57.4,26.9 58.9,24.1 60.7,21.5 60,19.4 58.2,19.7 56.7,20.8 54.6,21.5 52.4,20.8 51.3,20.1 50.3,21.2 48.4,23.4 46.6,25.4 43.7,27.6 40.8,30.5 39.7,32.7 38.3,34.9 37.7,35.5 34.3,37 31.5,36.5 29.1,35 26.2,35.5 24.3,37.4 24.3,40.8 26.2,42.6 27.6,41ZM45.2,80.6 40.3,81.3 37.4,72.7 31.5,72.7 29.4,75.6 26.7,75.2 21.3,71.1 17.6,71.1 17.7,71.3 16.5,73.6 13,74.2 10.6,76 10,79 7.7,81.3 9.5,82.5 14.2,82.5 21.3,83.7 26.6,84.3 29.6,86.6 34.3,87.8 39,90.2 42.6,92 46.1,91.4 45.5,87.8 47.3,85.5 50.8,83.1 49.4,81.7Z"/><path fill="#00c300" d="M75.6,65.8 77.6,63.1 81.4,59.1 80.5,57.7 79.6,58.5 75,59.6 69.9,59.6 68.6,60.5ZM21.3,71.1 26.7,75.2 29.4,75.6 31.5,72.7 37.4,72.7 40.2,71 42.2,71.8 47.9,70.4 49.8,67.1 42.7,63.6 40.2,64.7 34.7,62.2 33.4,58.4 32.3,58.5 27.9,59.3 24.8,61.8 20.7,61.2 16.5,61.8 15.4,63.6 17.7,65.4 16,68.3 17.6,71.1Z"/><path fill="#ff4b00" d="M41.3,42.4 37.9,39 35.1,40.4 32.1,40.6 31.7,40.3 27.6,41 26.2,42.6 26.7,43.1 30.5,44.1 34.3,45.5 36.3,47.3 35.9,53.1 36.2,54.6 44.1,59.4 46.1,57.9 46.5,56 54.5,53.4 53.7,50.9 54.4,45.1 52.8,44.8 47.9,41.3ZM82.5,59.5 81.4,59.1 77.6,63.1 75.6,65.8 75.8,67.3 76.2,67.5 80.1,69.1 81.2,68.4 88,66.3 88.2,65.8 85.1,60.1Z"/><path fill="#ffff00" d="M34.7,62.2 40.2,64.7 42.7,63.6 44.1,59.4 36.2,54.6 36.6,56.7 35.9,58.2 33.4,58.4Z"/><path fill="#d8f200" d="M81.4,59.1 82.5,59.5 85.1,60.1 88.2,65.8 96.9,64.3 96,58.3 93.6,55.4 93.3,49.8 88.2,49.3 84.2,49.9 83.6,55 80.5,57.7ZM110.1,47.7 112.7,45.1 112.7,44.5 113.9,43 116.2,38.9 119.1,36.2 120.8,38.1 127.8,37.6 131.7,43.6 135.6,42.8 137.8,39.9 136.9,39.6 134.4,37.7 134.4,35.2 133.1,32.6 128,32.6 123.5,31.4 121,32 117.8,33.9 112.7,35.2 108.8,37.3 105.4,39.6 103.2,42.3ZM51.6,66.4 49.8,67.1 47.9,70.4 42.2,71.8 40.2,71 37.4,72.7 40.3,81.3 45.2,80.6 49.4,81.7 48.5,80.7 50.8,79.6 58.6,77.7 59.4,78.7 62.3,73.7 60.8,69 60.5,68.6 60.7,62.9 59.2,63.3 55.5,64 52.3,64.7ZM98.6,86.7 106.2,84.6 107.3,83.5 110.2,83.4 113.4,87.2 122,85.5 123.9,87.4 124.1,87.4 131.5,90.8 130.7,88.4 131.8,85.7 134.9,84.7 135.4,82.6 133.3,81 131.2,82 128.6,81 126.5,79.4 125.9,78.5 125.7,75.7 125.2,73 123,71.4 120.3,70.8 117.5,69.2 114.8,67 111.4,65 107.6,67.4 98.5,65.8 97.9,69.4 100.4,75.5 93.2,80.9 93.5,81.6ZM118.1,71.9 122.1,78.6 121.8,79.3 120.8,82 111.7,82 112.9,79.3 114.1,75.9ZM120.1,95.4 115.4,99.9 115.6,100.5 121,106 121.3,105.5 123.8,103.9 127.9,101.4 129.9,99.3Z"/><path fill="#6add00" d="M105.3,52.9 100.7,48.2 100.8,48.7 98.5,50.5 93.9,49.9 93.3,49.8 93.6,55.4 96,58.3 103.8,55ZM46.5,56 46.1,57.9 44.1,59.4 42.7,63.6 49.8,67.1 51.6,66.4 52.3,64.7 52.3,64.7 52.6,61.8 54.1,58.2 54.8,54.5 54.5,53.4ZM98.3,65.5 96.9,64.3 88.2,65.8 88,66.3 81.2,68.4 80.1,69.1 82.5,75.7 83,76 84.7,79 90.6,79 93.2,80.9 100.4,75.5 97.9,69.4 98.5,65.8ZM121.8,79.3 122.1,78.6 118.1,71.9 114.1,75.9 112.9,79.3 111.7,82 120.8,82Z"/><path fill="#ffd500" d="M103.2,42.3 103.1,42.4 100.2,45.9 100.7,48.2 105.3,52.9 108.3,52.8 110.1,47.7ZM112.2,55.9 112.9,62.5 113.2,62.4 115.9,64.3 119.2,65.4 123,65.1 126.8,65.9 129,65.9 131.2,63.2 133.4,61.5 135,60.5 136.9,58.7 139.5,56.8 142,54.3 145.2,52.4 147.1,50.5 150.9,49.8 152.8,47.9 156,45.4 159.8,44.1 164.3,43.5 167.5,42.8 168.7,39.6 166.2,37.7 162.4,38.4 158.5,39 154.7,37.1 150.9,35.8 147.1,36.5 143.9,39 140.7,40.9 137.8,39.9 135.6,42.8 131.7,43.6 127.8,37.6 120.8,38.1 122.1,43.8 122.2,44 126.2,47.8 121.9,53 117.4,52.8ZM59.4,78.7 60.5,80 63.2,83.2 66.8,85.5 71.4,85.9 75.9,85.5 80.5,85.9 84.1,86.4 85.5,87.7 85.5,90.5 88.6,91.8 95.1,92.2 97.1,93.5 100.3,93.6 101.8,95.7 104.9,97.3 111.5,98.1 114.8,98.1 115.4,99.9 120.1,95.4 129.9,99.3 131.1,98.1 131.8,96 132.3,94.1 131.8,91.5 131.5,90.8 124.1,87.4 123.9,87.4 122,85.5 113.4,87.2 110.2,83.4 107.3,83.5 106.2,84.6 98.6,86.7 93.5,81.6 93.2,80.9 90.6,79 84.7,79 83,76 82.5,75.7 78.2,75.7 74.1,76.3 72.1,75.1 71.4,73.5 71.1,72.4 75.8,67.3 75.6,65.8 68.6,60.5 66.5,61.9 65,61.8 60.7,62.9 60.5,68.6 60.8,69 62.3,73.7ZM115.6,100.5 115.6,100.6 116.4,103.9 115.6,106.3 113.9,108.8 112.3,111.2 113.9,112 116.4,110.4 119.7,108 121,106Z"/><path fill="#ff9000" d="M110.1,47.7 108.3,52.8 105.3,52.9 103.8,55 96,58.3 96.9,64.3 98.3,65.5 98.5,65.8 107.6,67.4 111.4,65 110.5,64.5 110.2,63.2 112.9,62.5 112.2,55.9 117.4,52.8 121.9,53 126.2,47.8 122.2,44 122.1,43.8 120.8,38.1 119.1,36.2 116.2,38.9 113.9,43 112.7,44.5 112.7,45.1ZM71.1,72.4 71.4,73.5 72.1,75.1 74.1,76.3 78.2,75.7 82.5,75.7 80.1,69.1 76.2,67.5 75.8,67.3Z"/><path fill="none" stroke="#b4b4b4" stroke-width="0.5" d="M104.9,97.3 111.5,98.1 114.8,98.1 115.6,100.6 116.4,103.9 115.6,106.3 113.9,108.8 112.3,111.2 111.5,109.6 109,108.8 106.6,106.3 104.9,103.9 104.1,99.8ZM132.3,94.1 133.6,95.7 138.5,96.5 140.2,98.1 139.3,101.4 137.7,104.7 135.2,108 132,111.2 127,112.9 123,113.7 119.7,112.9 116.4,111.2 116.4,110.4 119.7,108 121.3,105.5 123.8,103.9 127.9,101.4 131.1,98.1 131.8,96Z"/></g><rect x="187.1" y="135.5" width="167.6" height="115.6" fill="none" stroke="#8a8a8a" stroke-width="0.9"/><line x1="232.4" y1="134.3" x2="232.4" y2="136.5" stroke="#444" stroke-width="0.6"/><text x="232.4" y="133.1" class="tk" text-anchor="middle">110°E</text><line x1="278.9" y1="134.3" x2="278.9" y2="136.5" stroke="#444" stroke-width="0.6"/><text x="278.9" y="133.1" class="tk" text-anchor="middle">115°E</text><line x1="325.5" y1="134.3" x2="325.5" y2="136.5" stroke="#444" stroke-width="0.6"/><text x="325.5" y="133.1" class="tk" text-anchor="middle">120°E</text><line x1="353.7" y1="142.0" x2="355.9" y2="142.0" stroke="#444" stroke-width="0.6"/><text transform="translate(360.5 142.6) rotate(-90)" class="tk" text-anchor="middle">40°N</text><line x1="353.7" y1="188.8" x2="355.9" y2="188.8" stroke="#444" stroke-width="0.6"/><text transform="translate(360.5 189.4) rotate(-90)" class="tk" text-anchor="middle">35°N</text><line x1="353.7" y1="235.7" x2="355.9" y2="235.7" stroke="#444" stroke-width="0.6"/><text transform="translate(360.5 236.3) rotate(-90)" class="tk" text-anchor="middle">30°N</text><g transform="translate(197.5 146.1)"><circle r="5.1" fill="none" stroke="#3a3a3a" stroke-width="0.95"/><path d="M0,-5L0.55,-0.55L5,0L0.55,0.55L0,5L-0.55,0.55L-5,0L-0.55,-0.55Z" fill="#333"/><path d="M-3.6,-3.6L3.6,3.6M3.6,-3.6L-3.6,3.6" stroke="#555" stroke-width="0.5"/><text y="-7.1" class="cp" text-anchor="middle">N</text><text y="9.6" class="cp" text-anchor="middle">S</text><text x="8.0" y="1.1" class="cp" text-anchor="middle">E</text><text x="-8.6" y="1.1" class="cp" text-anchor="middle">W</text></g><text x="321.6" y="146.7" class="yr b" text-anchor="middle">2005</text><rect x="303.57" y="247.01" width="41.95" height="2.2" fill="#fff" stroke="#111" stroke-width="0.45"/><rect x="303.57" y="247.01" width="8.39" height="2.2" fill="#000"/><rect x="320.35" y="247.01" width="8.39" height="2.2" fill="#000"/><rect x="337.13" y="247.01" width="8.39" height="2.2" fill="#000"/><text x="303.6" y="245.4" class="sb" text-anchor="middle">0</text><text x="312.0" y="245.4" class="sb" text-anchor="middle">100</text><text x="320.3" y="245.4" class="sb" text-anchor="middle">200</text><text x="328.7" y="245.4" class="sb" text-anchor="middle">300</text><text x="337.1" y="245.4" class="sb" text-anchor="middle">400</text><text x="345.5" y="245.4" class="sb" text-anchor="middle">500</text><text x="346.7" y="249.1" class="sb">km</text><text x="224.6" y="194.3" class="pv" text-anchor="middle">Shanxi</text><text x="265.3" y="200.8" class="pv" text-anchor="middle">Henan</text><text x="308.5" y="180.9" class="pv" text-anchor="middle">Shandong</text><text x="301.6" y="215.8" class="pv" text-anchor="middle">Anhui</text><g transform="matrix(1.0047 0 0 1.0095 366.98 125.92)"><path fill="#ff9000" d="M33.5,40.5 31.7,39.7 29.2,41 28.5,43.6 30.5,44.1 34.3,45.5 36.3,47.3 35.9,53.1 36.6,56.7 35.9,58.2 35.1,58.3 38.9,61.4 40,64.4 48.4,66.1 52.3,63.3 52.4,63.5 52.6,61.8 54.1,58.2 54.8,54.5 53.7,50.9 54.4,45.4 54,45.3 47,40.3 42.3,41 38,36.7ZM55.2,68.8 61.8,73.8 62.1,74 63,73.6 65.1,74.3 70.6,75.7 72.3,68.7 74.7,66.9 76.4,68 83,68.7 83.8,69.8 91.9,68.4 95.5,70.5 97.1,67.8 103.1,63.8 104.5,63.8 105.9,64.3 108.5,63.8 108.5,57.7 103.4,55.8 101.4,54 96.4,54.6 96.2,55.5 90.5,61.3 85.2,60.2 83.1,63.2 80.6,62.4 73.7,61.3 72.7,59.6 69.9,59.6 66.5,61.9 65,61.8 59.2,63.3 55.5,64 53,64.5ZM35.3,75.9 28.1,72.3 23.9,74 20.5,73.5 19.9,72.8 17.5,71.6 16.5,73.6 13,74.2 10.6,76 10,79 7.7,81.3 9.5,82.5 14.2,82.5 21.3,83.7 26.6,84.3 29.6,86.6 31.1,87 31.3,85.2ZM159.4,38.9 158.5,39 154.7,37.1 150.9,35.8 147.1,36.5 143.9,39 141.3,40.5 150.8,46.8 151.6,48.4 152,48.7 152.8,47.9 156,45.4 159.4,44.2ZM123.6,53.5 122.1,53.9 122.1,60 123.5,65.2 126.8,65.9 129,65.9 131.2,63.2 133.4,61.5 135,60.5 136.9,58.7 139.4,56.9 138.1,53 129,51.7 127.4,52.8 124.2,53.3ZM113.8,67 111.9,71.4 113.2,76 113.6,76.6 113.6,76.6 118.2,76.6 125.4,74.3 125.2,73 123,71.4 120.3,70.8 117.5,69.2 115.1,67.2ZM115.3,99.6 115.6,100.6 116.4,103.9 115.6,106.3 113.9,108.8 112.3,111.2 113.9,112 116.4,110.4 119.7,108 121.3,105.5 123.4,104.2Z"/><path fill="#d8f200" d="M130.4,41.5 138,40 136.9,39.6 134.4,37.7 134.4,35.2 133.1,32.6 128,32.6 123.5,31.4 121,32 118.4,33.5 118.9,37.6 124,41.8 124.4,41.8 127.9,41.3 130.4,41.5ZM159.4,44.2 159.8,44.1 164.3,43.5 167.5,42.8 168.7,39.6 166.2,37.7 162.4,38.4 159.4,38.9ZM128.7,86.3 128.8,87 130.8,88.1 131.8,85.7 134.9,84.7 135.4,82.6 133.3,81 131.2,82 128.6,81 127.7,80.3ZM111.5,49.3 109.9,47.9 107.7,47.4 101.4,54 103.4,55.8 108.5,57.7 108.5,63.8 111.4,65 110.5,64.5 110.2,63.2 113.2,62.4 115.9,64.3 119.2,65.4 123,65.1 123.5,65.2 122.1,60 122.1,53.9 120,53 118.6,51.3ZM113.8,67 115.1,67.2 114.8,67 113.2,66ZM23.9,74 28.1,72.3 29.8,65.6 27.6,61.1 27.4,59.7 24.8,61.8 20.7,61.2 16.5,61.8 15.4,63.6 17.7,65.4 16,68.3 17.7,71.3 17.5,71.6 19.9,72.8 20.5,73.5ZM85.9,55.1 84.1,56.9 85.2,60.2 90.5,61.3 96.2,55.5 96.4,54.6 95.6,53.5ZM101.4,74.6 104.8,77.1 109.5,84.7 112.2,84.7 113.6,76.6 113.2,76 111.9,71.4 103.8,72.6ZM121.8,93.5 122.6,92.1 123.2,90 114.4,85 112.7,85.1 112.8,85.7 119.9,94.2 115.5,97.7 115,98.6 115.3,99.6 123.4,104.2 123.8,103.9 127.6,101.6Z"/><path fill="#fa0500" d="M29.2,41 31.7,39.7 33.5,40.5 38,36.7 42.3,41 47,40.3 54,45.3 54.4,45.4 54.5,44.4 55.5,39.9 56.8,37 56.1,34.9 55,32 56.1,29.8 57.4,26.9 58.9,24.1 60.7,21.5 60,19.4 58.2,19.7 56.7,20.8 54.6,21.5 52.4,20.8 51.3,20.1 50.3,21.2 48.4,23.4 46.6,25.4 43.7,27.6 40.8,30.5 39.7,32.7 38.3,34.9 37.7,35.5 34.3,37 31.5,36.5 29.1,35 26.2,35.5 24.3,37.4 24.3,40.8 26.7,43.1 28.5,43.6Z"/><path fill="#ff4b00" d="M37.8,74.1 35.3,75.9 31.3,85.2 31.1,87 34.3,87.8 39,90.2 42.6,92 46.1,91.4 45.5,87.8 47.3,85.5 50.8,83.1 48.5,80.7 50.8,79.6 58.6,77.7 59.4,78.7 62.1,74 61.8,73.8 55.2,68.8 53,64.5 52.3,64.7 52.4,63.5 52.3,63.3 48.4,66.1 47,70.4 39,74.4ZM118.2,76.6 113.6,76.6 113.6,76.6 112.2,84.7 112.7,85.1 114.4,85 118.9,82.8 120.9,82.4 125.9,78 125.7,75.7 125.4,74.3Z"/><path fill="#6add00" d="M101.4,54 107.7,47.4 103.6,41.8 103.1,42.4 100.2,45.9 100.8,48.7 98.5,50.5 94.3,50 95.6,53.5 96.4,54.6ZM139.4,56.9 139.5,56.8 142,54.3 145.2,52.4 147.1,50.5 150.9,49.8 152,48.7 151.6,48.4 150.8,46.8 141.3,40.5 140.7,40.9 138.8,40.2 138.8,51.6 138.1,53ZM35.1,58.3 32.3,58.5 27.9,59.3 27.4,59.7 27.6,61.1 29.8,65.6 28.1,72.3 35.3,75.9 37.8,74.1 39,74.4 47,70.4 48.4,66.1 40,64.4 38.9,61.4ZM113.2,66 111.4,65 108.5,63.8 105.9,64.3 104.5,63.8 103.1,63.8 97.1,67.8 95.5,70.5 95.8,71.1 100,74.7 97.3,84.1 98.3,85.8 105.3,86.8 109.5,84.7 104.8,77.1 101.4,74.6 103.8,72.6 111.9,71.4 113.8,67ZM112.6,89 115.5,97.7 119.9,94.2 112.8,85.7Z"/><path fill="#00c300" d="M84.1,56.9 82.4,56 79.6,58.5 75,59.6 72.7,59.6 73.7,61.3 80.6,62.4 83.1,63.2 85.2,60.2ZM74.4,76.6 71.2,76.3 70.6,75.7 65.1,74.3 63,73.6 62.1,74 59.4,78.7 60.5,80 63.2,83.2 66.8,85.5 71.4,85.9 75.9,85.5 80.5,85.9 83.5,86.3 84,85.2 92,83.2 92.5,83.4 97.3,84.1 100,74.7 95.8,71.1 95.5,70.5 91.9,68.4 83.8,69.8 83.2,74.3 76,75.4ZM113.7,42 116.1,41.3 118.9,37.6 118.4,33.5 117.8,33.9 112.7,35.2 108.8,37.3 105.4,39.6 103.6,41.8 107.7,47.4 109.9,47.9ZM127.6,101.6 127.9,101.4 131.1,98.1 131.8,96 132.3,94.1 131.8,91.5 130.7,88.4 130.8,88.1 128.8,87 123.6,89.6 123.2,90 122.6,92.1 121.8,93.5Z"/><path fill="#ffff00" d="M84.1,56.9 85.9,55.1 86.2,49.6 84.2,49.9 83.6,55 82.4,56ZM74.4,76.6 76,75.4 76.4,68 74.7,66.9 72.3,68.7 70.6,75.7 71.2,76.3Z"/><path fill="#ffd500" d="M85.9,55.1 95.6,53.5 94.3,50 93.9,49.9 88.2,49.3 86.2,49.6ZM109.9,47.9 111.5,49.3 118.6,51.3 120,53 122.1,53.9 123.6,53.5 124.2,53.3 127.4,52.8 129,51.7 138.1,53 138.8,51.6 138.8,40.2 138,40 130.4,41.5 130.4,41.5 127.9,41.3 124.4,41.8 124,41.8 118.9,37.6 116.1,41.3 113.7,42ZM83.8,69.8 83,68.7 76.4,68 76,75.4 83.2,74.3ZM112.8,85.7 112.7,85.1 112.2,84.7 109.5,84.7 105.3,86.8 98.3,85.8 97.3,84.1 92.5,83.4 92,83.2 84,85.2 83.5,86.3 84.1,86.4 85.5,87.7 85.5,90.5 88.6,91.8 95.1,92.2 97.1,93.5 100.3,93.6 101.8,95.7 104.9,97.3 111.5,98.1 114.8,98.1 115,98.6 115.5,97.7 112.6,89ZM114.4,85 123.2,90 123.6,89.6 128.8,87 128.7,86.3 127.7,80.3 126.5,79.4 125.9,78.5 125.9,78 120.9,82.4 118.9,82.8Z"/><path fill="none" stroke="#b4b4b4" stroke-width="0.5" d="M104.9,97.3 111.5,98.1 114.8,98.1 115.6,100.6 116.4,103.9 115.6,106.3 113.9,108.8 112.3,111.2 111.5,109.6 109,108.8 106.6,106.3 104.9,103.9 104.1,99.8ZM132.3,94.1 133.6,95.7 138.5,96.5 140.2,98.1 139.3,101.4 137.7,104.7 135.2,108 132,111.2 127,112.9 123,113.7 119.7,112.9 116.4,111.2 116.4,110.4 119.7,108 121.3,105.5 123.8,103.9 127.9,101.4 131.1,98.1 131.8,96Z"/></g><rect x="370.7" y="134.5" width="169.6" height="117.0" fill="none" stroke="#8a8a8a" stroke-width="0.9"/><line x1="416.5" y1="133.3" x2="416.5" y2="135.5" stroke="#444" stroke-width="0.6"/><text x="416.5" y="132.1" class="tk" text-anchor="middle">110°E</text><line x1="463.6" y1="133.3" x2="463.6" y2="135.5" stroke="#444" stroke-width="0.6"/><text x="463.6" y="132.1" class="tk" text-anchor="middle">115°E</text><line x1="510.8" y1="133.3" x2="510.8" y2="135.5" stroke="#444" stroke-width="0.6"/><text x="510.8" y="132.1" class="tk" text-anchor="middle">120°E</text><line x1="539.3" y1="141.1" x2="541.5" y2="141.1" stroke="#444" stroke-width="0.6"/><text transform="translate(546.1 141.7) rotate(-90)" class="tk" text-anchor="middle">40°N</text><line x1="539.3" y1="188.5" x2="541.5" y2="188.5" stroke="#444" stroke-width="0.6"/><text transform="translate(546.1 189.1) rotate(-90)" class="tk" text-anchor="middle">35°N</text><line x1="539.3" y1="235.9" x2="541.5" y2="235.9" stroke="#444" stroke-width="0.6"/><text transform="translate(546.1 236.5) rotate(-90)" class="tk" text-anchor="middle">30°N</text><g transform="translate(381.1 145.1)"><circle r="5.1" fill="none" stroke="#3a3a3a" stroke-width="0.95"/><path d="M0,-5L0.55,-0.55L5,0L0.55,0.55L0,5L-0.55,0.55L-5,0L-0.55,-0.55Z" fill="#333"/><path d="M-3.6,-3.6L3.6,3.6M3.6,-3.6L-3.6,3.6" stroke="#555" stroke-width="0.5"/><text y="-7.1" class="cp" text-anchor="middle">N</text><text y="9.6" class="cp" text-anchor="middle">S</text><text x="8.0" y="1.1" class="cp" text-anchor="middle">E</text><text x="-8.6" y="1.1" class="cp" text-anchor="middle">W</text></g><text x="506.9" y="145.9" class="yr b" text-anchor="middle">2006</text><rect x="488.56" y="247.36" width="42.45" height="2.2" fill="#fff" stroke="#111" stroke-width="0.45"/><rect x="488.56" y="247.36" width="8.49" height="2.2" fill="#000"/><rect x="505.54" y="247.36" width="8.49" height="2.2" fill="#000"/><rect x="522.52" y="247.36" width="8.49" height="2.2" fill="#000"/><text x="488.6" y="245.8" class="sb" text-anchor="middle">0</text><text x="497.0" y="245.8" class="sb" text-anchor="middle">100</text><text x="505.5" y="245.8" class="sb" text-anchor="middle">200</text><text x="514.0" y="245.8" class="sb" text-anchor="middle">300</text><text x="522.5" y="245.8" class="sb" text-anchor="middle">400</text><text x="531.0" y="245.8" class="sb" text-anchor="middle">500</text><text x="532.2" y="249.5" class="sb">km</text><text x="408.7" y="194.1" class="pv" text-anchor="middle">Shanxi</text><text x="449.9" y="200.6" class="pv" text-anchor="middle">Henan</text><text x="493.6" y="180.4" class="pv" text-anchor="middle">Shandong</text><text x="486.5" y="215.8" class="pv" text-anchor="middle">Anhui</text><g transform="matrix(0.9905 0 0 0.9974 4.14 269.52)"><path fill="#ffff00" d="M46.4,78.3 42.6,78.9 39.2,73.2 31.9,73.2 29.8,76.1 27,75.7 20.6,70.9 17.5,70.9 17.7,71.3 16.5,73.6 13,74.2 10.6,76 10,79 7.7,81.3 9.5,82.5 14.2,82.5 21.3,83.7 26.6,84.3 29.6,86.6 34.3,87.8 39,90.2 42.6,92 46.1,91.4 45.5,87.8 47.3,85.5 50.8,83.1 48.5,80.7 49.8,80.1ZM155.2,45 155.1,46.1 156,45.4 159.8,44.1 164.3,43.5 167.5,42.8 168.7,39.6 166.2,37.7 162.4,38.4 158.5,39 157.8,38.7ZM138.3,53.2 134.4,52.2 133.2,51.6 128.1,55.4 128.6,58.6 129.1,59.4 133,61.8 133.4,61.5 135,60.5 136.9,58.7 139.5,56.8 140.3,56ZM113.9,90.9 115.3,89.4 115.7,88.7 119.9,84.5 119.2,83.5 113.1,81.5 111.9,82.4 105.9,85 107.4,87.2Z"/><path fill="#fa0500" d="M114.9,44.4 115,44 106.6,38.8 105.4,39.6 103.5,41.9 111.2,45.7ZM119.1,34.1 112.5,39.6 115,43.9 119.9,37.3 119.9,37.1ZM20.6,70.9 27,75.7 29.8,76.1 31.9,73.2 39.2,73.2 40.6,70.9 47.3,69.2 47.7,68 45.8,63 44.8,62.3 38.9,64.1 35.1,62.5 33.5,58.4 32.3,58.5 27.9,59.3 24.8,61.8 20.7,61.2 16.5,61.8 15.4,63.6 17.7,65.4 16,68.3 17.5,70.9ZM79.2,64.1 85.2,60.4 85,60 81.5,56.8 79.6,58.5 75,59.6 73.6,59.6 73.6,59.9 75,62.8 77.2,65.7Z"/><path fill="#00a800" d="M37.3,44.6 38.3,43.4 48.3,41.8 50.9,43.7 54.4,44.9 54.5,44.4 55.5,39.9 56.8,37 56.1,34.9 55,32 56.1,29.8 57.4,26.9 58.9,24.1 60.7,21.5 60,19.4 58.2,19.7 56.7,20.8 54.6,21.5 52.4,20.8 51.3,20.1 50.3,21.2 48.4,23.4 46.6,25.4 43.7,27.6 40.8,30.5 39.7,32.7 38.3,34.9 37.7,35.5 34.3,37 31.5,36.5 29.1,35 26.2,35.5 24.3,37.4 24.3,40.8 26.7,43.1 30.5,44.1 34.3,45.5 34.6,45.8Z"/><path fill="#00c300" d="M50.9,43.7 48.3,41.8 38.3,43.4 37.3,44.6 34.6,45.8 36.3,47.3 35.9,53.1 36.5,55.9 40.7,55.5 44.8,59 49.2,54.6 54.6,53.7 53.7,50.9 54.4,44.9ZM46.4,78.3 49.8,80.1 50.8,79.6 58.6,77.7 59.8,79.2 62.8,73.7 57.7,71.8 55.7,71.3 54.5,66.3 47.7,68 47.3,69.2 40.6,70.9 39.2,73.2 42.6,78.9ZM85.3,73.2 86.4,62.1 85.2,60.4 85.2,60.4 79.2,64.1 77.2,65.7 75,62.8 73.6,59.9 67.9,65 66.2,64.6 62.9,63.5 62.9,73.7 68.5,74.5 69.4,74.7 69.8,74.7 71.5,69.5 77.1,66.4 81.9,72.6Z"/><path fill="#d8f200" d="M73.6,59.6 69.9,59.6 66.5,61.9 65,61.8 59.2,63.3 55.9,63.9 54.5,66.3 55.7,71.3 57.7,71.8 62.8,73.7 62.9,73.7 62.9,63.5 66.2,64.6 67.9,65 73.6,59.9ZM103.2,54.2 98.3,60.4 98.3,63.1 107.2,64.6 110.4,64 110.2,63.2 113.2,62.4 115.9,64.3 119.2,65.4 123,65.1 126.8,65.9 129,65.9 131.2,63.2 133,61.8 129.1,59.4 128.6,58.6 128.1,55.4 120.6,51 120.6,50.5 114.9,44.4 111.2,45.7 108.9,51 108.8,51.8 106.3,54.2ZM111.2,72.8 104.2,73.7 103.1,74.4 101.6,74 96,78.2 96,84.3 90.3,85.1 85.5,90 85.5,90.5 88.6,91.8 95.1,92.2 97.1,93.5 100.3,93.6 101.8,95.7 104.9,97.3 111.5,98.1 114.6,98.1 113.9,90.9 107.4,87.2 105.9,85 111.9,82.4 113.1,81.5 119.2,83.5 119.9,84.5 123.7,85.5 123.9,85.4 130.5,88.3 130.8,88.6 130.7,88.4 131.8,85.7 134.9,84.7 135.4,82.6 133.3,81 131.2,82 128.6,81 126.5,79.4 125.9,78.5 125.7,75.7 125.2,73 123,71.4 120.3,70.8 117.5,69.2 114.8,67 114.3,66.7ZM121.8,100.7 118.6,98.6 115,98.6 115.6,100.6 116.4,103.9 115.6,106.3 113.9,108.8 112.3,111.2 113.9,112 116.4,110.4 119.7,108 121.3,105.5 123.8,103.9 124.9,103.2ZM35.1,62.5 38.9,64.1 44.8,62.3 44.8,59 40.7,55.5 36.5,55.9 36.6,56.7 35.9,58.2 33.5,58.4ZM86.4,62.1 85.3,73.2 85.7,73.6 89.3,73.1 97,66.3 97.3,64.5ZM155.2,45 157.8,38.7 154.7,37.1 150.9,35.8 147.1,36.5 143.9,39 142.7,39.7 153.1,47.6 155.1,46.1Z"/><path fill="#ffd500" d="M85.2,60.4 86.4,62.1 97.3,64.5 97,66.3 101.6,74 103.1,74.4 104.2,73.7 107.2,64.6 98.3,63.1 98.3,60.4 93.1,55.1 92.2,49.7 88.2,49.3 84.2,49.9 83.6,55 81.5,56.8 85,60 85.2,60.4ZM75.9,76.1 71.2,75.8 69.8,74.7 69.4,74.7 68.5,74.5 62.9,73.7 62.8,73.7 59.8,79.2 60.5,80 63.2,83.2 66.8,85.5 71.4,85.9 75.9,85.5 80.5,85.9 84.1,86.4 85.5,87.7 85.5,90 90.3,85.1 96,84.3 96,78.2 89.3,73.1 85.7,73.6 85.3,73.2 81.9,72.6ZM103.2,54.2 106.3,54.2 108.8,51.8 108.9,51 111.2,45.7 103.5,41.9 103.1,42.4 100.2,45.9 100.8,48.7 100.2,49.2ZM141.3,47.3 139,40.3 138.4,40.1 134.1,42.5 129.2,41.9 125.8,43.3 123.5,47.6 120.6,50.5 120.6,51 128.1,55.4 133.2,51.6 134.4,52.2 138.3,53.2ZM118.6,98.6 122.2,93.8 128.2,93.8 132.1,93.2 131.8,91.5 130.8,88.6 130.5,88.3 123.9,85.4 123.7,85.5 119.9,84.5 115.7,88.7 115.3,89.4 113.9,90.9 114.6,98.1 114.8,98.1 115,98.6Z"/><path fill="#ff9000" d="M125.8,43.3 129.2,41.9 134.1,42.5 138.4,40.1 136.9,39.6 134.4,37.7 134.4,35.2 133.1,32.6 128,32.6 123.5,31.4 121,32 118.9,33.3 119.1,34.1 119.9,37.1 119.9,37.3 115,43.9 115,44 114.9,44.4 120.6,50.5 123.5,47.6ZM141.3,47.3 138.3,53.2 140.3,56 142,54.3 145.2,52.4 147.1,50.5 150.9,49.8 152.8,47.9 153.1,47.6 142.7,39.7 140.7,40.9 139,40.3ZM100.2,49.2 98.5,50.5 93.9,49.9 92.2,49.7 93.1,55.1 98.3,60.4 103.2,54.2ZM49.2,54.6 44.8,59 44.8,62.3 45.8,63 47.7,68 54.5,66.3 55.9,63.9 55.5,64 52.3,64.7 52.6,61.8 54.1,58.2 54.8,54.5 54.6,53.7ZM107.2,64.6 104.2,73.7 111.2,72.8 114.3,66.7 110.5,64.5 110.4,64ZM89.3,73.1 96,78.2 101.6,74 97,66.3ZM124.9,103.2 127.9,101.4 131.1,98.1 131.8,96 132.3,94.1 132.1,93.2 128.2,93.8 121.8,100.7Z"/><path fill="#6add00" d="M69.8,74.7 71.2,75.8 75.9,76.1 81.9,72.6 77.1,66.4 71.5,69.5Z"/><path fill="#ff4b00" d="M115,44 115,43.9 112.5,39.6 119.1,34.1 118.9,33.3 117.8,33.9 112.7,35.2 108.8,37.3 106.6,38.8ZM122.2,93.8 118.6,98.6 121.8,100.7 128.2,93.8Z"/><path fill="none" stroke="#b4b4b4" stroke-width="0.5" d="M104.9,97.3 111.5,98.1 114.8,98.1 115.6,100.6 116.4,103.9 115.6,106.3 113.9,108.8 112.3,111.2 111.5,109.6 109,108.8 106.6,106.3 104.9,103.9 104.1,99.8ZM132.3,94.1 133.6,95.7 138.5,96.5 140.2,98.1 139.3,101.4 137.7,104.7 135.2,108 132,111.2 127,112.9 123,113.7 119.7,112.9 116.4,111.2 116.4,110.4 119.7,108 121.3,105.5 123.8,103.9 127.9,101.4 131.1,98.1 131.8,96Z"/></g><rect x="7.8" y="278.0" width="167.2" height="115.6" fill="none" stroke="#8a8a8a" stroke-width="0.9"/><line x1="52.9" y1="276.8" x2="52.9" y2="279.0" stroke="#444" stroke-width="0.6"/><text x="52.9" y="275.6" class="tk" text-anchor="middle">110°E</text><line x1="99.4" y1="276.8" x2="99.4" y2="279.0" stroke="#444" stroke-width="0.6"/><text x="99.4" y="275.6" class="tk" text-anchor="middle">115°E</text><line x1="145.9" y1="276.8" x2="145.9" y2="279.0" stroke="#444" stroke-width="0.6"/><text x="145.9" y="275.6" class="tk" text-anchor="middle">120°E</text><line x1="174.0" y1="284.5" x2="176.2" y2="284.5" stroke="#444" stroke-width="0.6"/><text transform="translate(180.8 285.1) rotate(-90)" class="tk" text-anchor="middle">40°N</text><line x1="174.0" y1="331.3" x2="176.2" y2="331.3" stroke="#444" stroke-width="0.6"/><text transform="translate(180.8 331.9) rotate(-90)" class="tk" text-anchor="middle">35°N</text><line x1="174.0" y1="378.2" x2="176.2" y2="378.2" stroke="#444" stroke-width="0.6"/><text transform="translate(180.8 378.8) rotate(-90)" class="tk" text-anchor="middle">30°N</text><g transform="translate(18.2 288.6)"><circle r="5.1" fill="none" stroke="#3a3a3a" stroke-width="0.95"/><path d="M0,-5L0.55,-0.55L5,0L0.55,0.55L0,5L-0.55,0.55L-5,0L-0.55,-0.55Z" fill="#333"/><path d="M-3.6,-3.6L3.6,3.6M3.6,-3.6L-3.6,3.6" stroke="#555" stroke-width="0.5"/><text y="-7.1" class="cp" text-anchor="middle">N</text><text y="9.6" class="cp" text-anchor="middle">S</text><text x="8.0" y="1.1" class="cp" text-anchor="middle">E</text><text x="-8.6" y="1.1" class="cp" text-anchor="middle">W</text></g><text x="138.7" y="288.7" class="yr" text-anchor="middle">2007</text><rect x="123.99" y="389.51" width="41.85" height="2.2" fill="#fff" stroke="#111" stroke-width="0.45"/><rect x="123.99" y="389.51" width="8.37" height="2.2" fill="#000"/><rect x="140.73" y="389.51" width="8.37" height="2.2" fill="#000"/><rect x="157.47" y="389.51" width="8.37" height="2.2" fill="#000"/><text x="124.0" y="387.9" class="sb" text-anchor="middle">0</text><text x="132.4" y="387.9" class="sb" text-anchor="middle">100</text><text x="140.7" y="387.9" class="sb" text-anchor="middle">200</text><text x="149.1" y="387.9" class="sb" text-anchor="middle">300</text><text x="157.5" y="387.9" class="sb" text-anchor="middle">400</text><text x="165.8" y="387.9" class="sb" text-anchor="middle">500</text><text x="167.0" y="391.6" class="sb">km</text><text x="45.2" y="336.8" class="pv" text-anchor="middle">Shanxi</text><text x="85.9" y="343.3" class="pv" text-anchor="middle">Henan</text><text x="128.9" y="323.4" class="pv" text-anchor="middle">Shandong</text><text x="122.0" y="358.3" class="pv" text-anchor="middle">Anhui</text><g transform="matrix(0.9834 0 0 0.9991 186.96 269.51)"><path fill="#fa0500" d="M32.3,84.3 31.7,82 33,74.1 24.8,72.1 22.1,75.5 20.7,76.1 16,73.7 13,74.2 10.6,76 10,79 7.7,81.3 9.5,82.5 14.2,82.5 21.3,83.7 26.6,84.3 29.6,86.6 32,87.2ZM27.3,40.4 31.6,41.1 32.3,40.3 36.2,40.7 39.1,39.2 42.5,42 48.1,41.2 54.3,45.7 54.5,44.4 55.5,39.9 56.8,37 56.1,34.9 55,32 56.1,29.8 57.4,26.9 58.9,24.1 60.7,21.5 60,19.4 58.2,19.7 56.7,20.8 54.6,21.5 52.4,20.8 51.3,20.1 50.3,21.2 48.4,23.4 46.6,25.4 43.7,27.6 40.8,30.5 39.7,32.7 38.3,34.9 37.7,35.5 34.3,37 31.5,36.5 29.1,35 26.2,35.5 24.3,37.4 24.3,40.8 25.8,42.2ZM45.7,67.7 42.6,75.4 43.3,76.9 48.9,81.7 49.6,81.9 48.5,80.7 50.8,79.6 58.6,77.7 59.2,78.4 60.8,74.3 60.2,72.7 58,71.3 54.8,64.7 54.7,64.5 50,67.7Z"/><path fill="#ffff00" d="M22.1,75.5 24.8,72.1 33,74.1 34.9,72.2 42.6,75.4 45.7,67.7 43,65 39.8,64 34.9,68.1 27.9,63.8 26.9,60.1 24.8,61.8 20.7,61.2 16.5,61.8 15.4,63.6 17.7,65.4 16,68.3 17.7,71.3 16.5,73.6 16,73.7 20.7,76.1ZM108.7,83.2 109,82.5 109.3,80.2 100.5,74.3 98.7,74.5 95.7,81.7 96.9,83 102.8,85.6 105,85.3Z"/><path fill="#ff4b00" d="M48.1,41.2 42.5,42 39.1,39.2 36.2,40.7 32.3,40.3 31.6,41.1 27.3,40.4 25.8,42.2 26.7,43.1 30.5,44.1 34.3,45.5 36.3,47.3 35.9,53.1 35.9,53.2 36.3,53.3 39.8,64 43,65 47.2,58.5 47.4,58.5 54,51.8 53.7,50.9 54.3,45.7ZM54.7,64.5 54.8,64.7 58,71.3 60.2,72.7 60.8,74.3 67,75 70.4,73.2 73.2,73.9 73.9,73.7 77.1,72.7 78.1,73 87.2,65.3 84.2,62.2 84.1,62.2 78.8,62.2 76.1,62.6 75.2,64.4 74.2,64.1 71.2,62.7 69.8,59.6 66.5,61.9 65,61.8 59.2,63.3 55.5,64 54.8,64.1ZM32.3,84.3 32,87.2 34.3,87.8 39,90.2 42.6,92 46.1,91.4 45.5,87.8 47.3,85.5 50.8,83.1 49.6,81.9 48.9,81.7 43.3,76.9 42.6,75.4 34.9,72.2 33,74.1 31.7,82ZM116.8,98.3 114.1,90.4 113.9,90.2 113.9,89.2 108.7,83.2 105,85.3 102.8,85.6 96.9,83 95.7,81.7 94.9,81.7 85.3,87.5 85.5,87.7 85.5,90.5 88.6,91.8 95.1,92.2 97.1,93.5 100.3,93.6 101.8,95.7 104.9,97.3 111.5,98.1 114.8,98.1 115.2,99.4ZM120.6,80.4 119.9,83 120,83.6 120.1,85.4 123.3,88.7 128.3,87.9 129.5,87.5 130.8,88.1 131.8,85.7 134.9,84.7 135.4,82.6 133.3,81 131.2,82 128.6,81 126.5,79.4 125.9,78.5 125.8,77.8Z"/><path fill="#ff9000" d="M123,50.4 124.3,45.3 124.4,43.9 121.4,40 121.2,39.9 118.3,40.7 116.9,41 114.2,43.1 112.2,45.3 112.8,48.9 117,49.2ZM103.6,52.6 100.8,57.2 96.3,59.2 93.6,58 87.3,65.3 91.1,69.2 95.6,69.8 98.5,64.8 103.8,64.8 106.9,67.4 110.3,67 112.4,65.6 110.5,64.5 110.2,63.2 112.6,62.6 112.6,62 108.8,58.1 107.9,53.1 106.3,52.6ZM36.3,53.3 35.9,53.2 36.6,56.7 35.9,58.2 32.3,58.5 27.9,59.3 26.9,60.1 27.9,63.8 34.9,68.1 39.8,64ZM116,76.1 112,76.8 111,77.6 109.3,80.2 109,82.5 108.7,83.2 113.9,89.2 113.9,90.2 114.1,90.4 116.8,98.3 119.2,98.2 120.2,96.9 122.1,93 122.1,92.2 123.3,88.7 120.1,85.4 120,83.6 119.9,83 120.6,80.4ZM134,51.4 129.4,53.5 123.6,52.5 123.2,53.4 120.7,57 123.7,63.9 123.6,65.2 126.8,65.9 129,65.9 131.2,63.2 133.4,61.5 135,60.5 136.9,58.7 139.5,56.8 140.5,55.8Z"/><path fill="#00c300" d="M47.4,58.5 47.2,58.5 43,65 45.7,67.7 50,67.7 54.7,64.5 54.8,64.1 52.3,64.7 52.6,61.8 54.1,58.2 54.8,54.5 54,51.8ZM84.2,62.2 83.1,56.4 82.5,56 79.6,58.5 76,59.4 76.1,62.6 78.8,62.2 84.1,62.2ZM78.1,73 78.6,73.6 81.1,86 84.1,86.4 85.3,87.5 94.9,81.7 95.7,81.7 98.7,74.5 95.6,69.8 91.1,69.2 87.3,65.3 87.2,65.3ZM106.2,42.2 112.2,45.3 114.2,43.1 116.9,41 118.3,40.7 121.2,39.9 120.3,32.4 117.8,33.9 112.7,35.2 108.8,37.3 105.4,39.6 104.6,40.6ZM100,49.3 98.5,50.5 94.5,50 92.9,56.3 93.6,58 96.3,59.2 100.8,57.2 103.6,52.6ZM128.5,96.9 126.6,94.8 122.1,93 120.2,96.9 119.2,98.2 124.4,103.5 127.9,101.4 130.8,98.4Z"/><path fill="#6add00" d="M92.9,56.3 88.2,55.3 83.1,56.4 84.2,62.2 87.2,65.3 87.3,65.3 93.6,58ZM67,75 60.8,74.3 59.2,78.4 60.5,80 63.2,83.2 66.8,85.5 71.4,85.9 75.9,85.5 80.5,85.9 81.1,86 78.6,73.6 78.1,73 77.1,72.7 73.9,73.7 73.2,73.9 70.4,73.2ZM111,77.6 112,76.8 110.3,67 106.9,67.4 103.8,64.8 98.5,64.8 95.6,69.8 98.7,74.5 100.5,74.3 109.3,80.2ZM129.5,87.5 128.3,87.9 123.3,88.7 122.1,92.2 122.1,93 126.6,94.8 128.5,96.9 130.8,98.4 131.1,98.1 131.8,96 132.3,94.1 131.8,91.5 130.7,88.4 130.8,88.1Z"/><path fill="#d8f200" d="M121.2,39.9 121.4,40 124.4,43.9 128.2,42.9 131.8,39.3 135.6,38.6 134.4,37.7 134.4,35.2 133.1,32.6 128,32.6 123.5,31.4 121,32 120.3,32.4ZM94.5,50 93.9,49.9 88.2,49.3 84.2,49.9 83.6,55 82.5,56 83.1,56.4 88.2,55.3 92.9,56.3ZM71.2,62.7 74.2,64.1 75.2,64.4 76.1,62.6 76,59.4 75,59.6 69.9,59.6 69.8,59.6ZM113.8,61 112.6,62 112.6,62.6 113.2,62.4 115.9,64.3 119.2,65.4 123,65.1 123.6,65.2 123.7,63.9 120.7,57 119.2,57.3 117.9,58.3ZM116,76 121,71 120.3,70.8 117.5,69.2 114.8,67 114.6,66.9Z"/><path fill="#ffd500" d="M108.8,58.1 112.6,62 113.8,61 117.9,58.3 119.2,57.3 120.7,57 123.2,53.4 123.6,52.5 129.4,53.5 134,51.4 140.5,55.8 142,54.3 145.2,52.4 147.1,50.5 150.9,49.8 152.8,47.9 156,45.4 159.8,44.1 164.3,43.5 167.5,42.8 168.7,39.6 166.2,37.7 162.4,38.4 158.5,39 154.7,37.1 150.9,35.8 147.1,36.5 143.9,39 140.7,40.9 136.9,39.6 135.6,38.6 131.8,39.3 128.2,42.9 124.4,43.9 124.3,45.3 123,50.4 117,49.2 112.8,48.9 112.2,45.3 106.2,42.2 104.6,40.6 103.1,42.4 100.2,45.9 100.8,48.7 100,49.3 103.6,52.6 106.3,52.6 107.9,53.1ZM125.8,77.8 125.7,75.7 125.2,73 123,71.4 121,71 116,76 114.6,66.9 112.4,65.6 110.3,67 112,76.8 116,76.1 120.6,80.4ZM119.2,98.2 116.8,98.3 115.2,99.4 115.6,100.6 116.4,103.9 115.6,106.3 113.9,108.8 112.3,111.2 113.9,112 116.4,110.4 119.7,108 121.3,105.5 123.8,103.9 124.4,103.5Z"/><path fill="none" stroke="#b4b4b4" stroke-width="0.5" d="M104.9,97.3 111.5,98.1 114.8,98.1 115.6,100.6 116.4,103.9 115.6,106.3 113.9,108.8 112.3,111.2 111.5,109.6 109,108.8 106.6,106.3 104.9,103.9 104.1,99.8ZM132.3,94.1 133.6,95.7 138.5,96.5 140.2,98.1 139.3,101.4 137.7,104.7 135.2,108 132,111.2 127,112.9 123,113.7 119.7,112.9 116.4,111.2 116.4,110.4 119.7,108 121.3,105.5 123.8,103.9 127.9,101.4 131.1,98.1 131.8,96Z"/></g><rect x="190.6" y="278.0" width="166.0" height="115.8" fill="none" stroke="#8a8a8a" stroke-width="0.9"/><line x1="235.4" y1="276.8" x2="235.4" y2="279.0" stroke="#444" stroke-width="0.6"/><text x="235.4" y="275.6" class="tk" text-anchor="middle">110°E</text><line x1="281.6" y1="276.8" x2="281.6" y2="279.0" stroke="#444" stroke-width="0.6"/><text x="281.6" y="275.6" class="tk" text-anchor="middle">115°E</text><line x1="327.7" y1="276.8" x2="327.7" y2="279.0" stroke="#444" stroke-width="0.6"/><text x="327.7" y="275.6" class="tk" text-anchor="middle">120°E</text><line x1="355.6" y1="284.5" x2="357.8" y2="284.5" stroke="#444" stroke-width="0.6"/><text transform="translate(362.4 285.1) rotate(-90)" class="tk" text-anchor="middle">40°N</text><line x1="355.6" y1="331.4" x2="357.8" y2="331.4" stroke="#444" stroke-width="0.6"/><text transform="translate(362.4 332.0) rotate(-90)" class="tk" text-anchor="middle">35°N</text><line x1="355.6" y1="378.3" x2="357.8" y2="378.3" stroke="#444" stroke-width="0.6"/><text transform="translate(362.4 378.9) rotate(-90)" class="tk" text-anchor="middle">30°N</text><g transform="translate(201.0 288.6)"><circle r="5.1" fill="none" stroke="#3a3a3a" stroke-width="0.95"/><path d="M0,-5L0.55,-0.55L5,0L0.55,0.55L0,5L-0.55,0.55L-5,0L-0.55,-0.55Z" fill="#333"/><path d="M-3.6,-3.6L3.6,3.6M3.6,-3.6L-3.6,3.6" stroke="#555" stroke-width="0.5"/><text y="-7.1" class="cp" text-anchor="middle">N</text><text y="9.6" class="cp" text-anchor="middle">S</text><text x="8.0" y="1.1" class="cp" text-anchor="middle">E</text><text x="-8.6" y="1.1" class="cp" text-anchor="middle">W</text></g><text x="323.6" y="288.8" class="yr" text-anchor="middle">2008</text><rect x="305.95" y="389.71" width="41.55" height="2.2" fill="#fff" stroke="#111" stroke-width="0.45"/><rect x="305.95" y="389.71" width="8.31" height="2.2" fill="#000"/><rect x="322.57" y="389.71" width="8.31" height="2.2" fill="#000"/><rect x="339.19" y="389.71" width="8.31" height="2.2" fill="#000"/><text x="306.0" y="388.1" class="sb" text-anchor="middle">0</text><text x="314.3" y="388.1" class="sb" text-anchor="middle">100</text><text x="322.6" y="388.1" class="sb" text-anchor="middle">200</text><text x="330.9" y="388.1" class="sb" text-anchor="middle">300</text><text x="339.2" y="388.1" class="sb" text-anchor="middle">400</text><text x="347.5" y="388.1" class="sb" text-anchor="middle">500</text><text x="348.7" y="391.8" class="sb">km</text><text x="227.8" y="336.9" class="pv" text-anchor="middle">Shanxi</text><text x="268.1" y="343.4" class="pv" text-anchor="middle">Henan</text><text x="310.9" y="323.5" class="pv" text-anchor="middle">Shandong</text><text x="304.0" y="358.4" class="pv" text-anchor="middle">Anhui</text><g transform="matrix(0.9911 0 0 1.0000 364.73 269.70)"><path fill="#ff4b00" d="M44.7,58.2 36.4,55.8 36.6,56.7 35.9,58.2 33.6,58.4 39.3,65 43,64.5 44.8,58.5ZM68.8,73.8 71.2,73.8 72.7,70.1 72.8,70.1 77.4,69.1 79.9,68.3 83.5,70.4 87.7,66.9 87.6,66.5 88,63.2 82.9,59.8 82.3,60.6 80.8,63 79.8,64 76.7,62.6 74.7,59.6 69.9,59.6 66.5,61.9 65,61.8 62.5,62.4 62.9,64.6 62,67.9 62.2,73.2 67.1,74.2ZM20.4,73.7 17.3,72.1 16.5,73.6 13,74.2 10.6,76 10,79 7.7,81.3 9.5,82.5 14.2,82.5 21.3,83.7 26.6,84.3 29.6,86.6 31.9,87.2 32.2,84 31.7,81.7 32.7,75.3 29.2,72.3 21,74.3ZM115.7,99.4 115.3,99.7 115.6,100.6 116.4,103.9 115.6,106.3 113.9,108.8 112.3,111.2 113.9,112 116.4,110.4 119.7,108 121.3,105.5 123.8,103.9 124.3,103.6Z"/><path fill="#6add00" d="M32.9,42.1 31.5,44.5 34.3,45.5 36.3,47.3 35.9,53.1 36.4,55.8 44.7,58.2 45.5,56.3 54.4,53.3 53.7,50.9 54.4,45.2 46.1,40.5 42.7,40.9 39.5,38.7ZM27.5,62.9 29.8,66.8 29.2,72.3 32.7,75.3 37.3,72.3 43.7,76.1 47,67.7 43,64.5 39.3,65 33.6,58.4 32.3,58.5 27.9,59.3 27.1,59.9ZM82.9,59.8 88,63.2 94.2,57.8 86.9,56 82.7,56.9ZM126.3,33.1 129.8,39.3 135.3,38.4 134.4,37.7 134.4,35.2 133.1,32.6 128,32.6 126.2,32.1ZM111.6,45 113.5,42.9 115.6,41.3 118.4,40.2 118.5,40.1 117.6,34 112.7,35.2 108.8,37.3 105.4,39.6 104.1,41.2ZM98.1,84.4 102.5,84.4 104.6,85.5 110,84.8 111.4,76.5 112.2,75.9 112.9,66.9 111.3,65.1 107.6,65.7 107.4,65.7 98.7,69.2 100.4,73.4 96.5,79.3 97.2,83.7Z"/><path fill="#d8f200" d="M118.5,40.1 122,41.2 125.5,43.7 126.9,43 129.8,39.3 126.3,33.1 126.2,32.1 123.5,31.4 121,32 117.8,33.9 117.6,34ZM20.4,73.7 21,74.3 29.2,72.3 29.8,66.8 27.5,62.9 27.1,59.9 24.8,61.8 20.7,61.2 16.5,61.8 15.4,63.6 17.7,65.4 16,68.3 17.7,71.3 17.3,72.1ZM32.9,42.1 39.5,38.7 42.7,40.9 46.1,40.5 54.4,45.2 54.5,44.4 55.5,39.9 56.8,37 56.1,34.9 55,32 56.1,29.8 57.4,26.9 58.9,24.1 60.7,21.5 60,19.4 58.2,19.7 56.7,20.8 54.6,21.5 52.4,20.8 51.3,20.1 50.3,21.2 48.4,23.4 46.6,25.4 43.7,27.6 40.8,30.5 39.7,32.7 38.3,34.9 37.7,35.5 34.3,37 31.5,36.5 29.1,35 26.2,35.5 24.3,37.4 24.3,40.8 26.7,43.1 30.5,44.1 31.5,44.5ZM82.7,56.9 86.9,56 94.2,57.8 95,57.6 97,53 96.1,50.2 93.9,49.9 88.2,49.3 84.2,49.9 83.6,55 82.1,56.3ZM111.8,50.3 111.2,50 107.8,52.1 106.6,53.5 107.7,54.9 111.9,62.7 112.2,62.7 117,57.8 119.7,57.1 123.2,52.2 120.2,50.3ZM129.6,88.7 123,91.2 122.8,92.6 123.3,93.3 125.9,102.6 127.9,101.4 131.1,98.1 131.8,96 132.3,94.1 131.8,91.5 131.1,89.6Z"/><path fill="#fa0500" d="M47,67.7 43.7,76.1 37.3,72.3 32.7,75.3 31.7,81.7 32.2,84 31.9,87.2 34.3,87.8 39,90.2 42.6,92 46.1,91.4 45.5,87.8 47.3,85.5 50.8,83.1 48.5,80.7 50.8,79.6 58.6,77.7 59.3,78.6 60.1,74.3 57.3,72.8 56.6,70 53.3,65.1 50.2,67.2Z"/><path fill="#ffd500" d="M111.2,50 111.8,46.3 111.6,45 104.1,41.2 103.1,42.4 100.2,45.9 100.8,48.7 98.5,50.5 96.1,50.2 97,53 104.2,54 106.6,53.5 107.8,52.1ZM53.3,65.1 53.7,64.4 52.3,64.7 52.6,61.8 54.1,58.2 54.8,54.5 54.4,53.3 45.5,56.3 44.7,58.2 44.8,58.5 43,64.5 47,67.7 50.2,67.2ZM96,59.6 95,57.6 94.2,57.8 88,63.2 87.6,66.5 87.7,66.9 93.8,69.7 96.7,68.3ZM57.3,72.8 60.1,74.3 62.2,73.2 62,67.9 56.6,70ZM98.1,84.4 97.2,83.7 88.1,83.7 85.5,87.7 85.5,87.7 85.5,90.5 88.6,91.8 95.1,92.2 97.1,93.5 100.3,93.6 101.8,95.7 104.9,97.3 111.5,98.1 114.8,98.1 115.3,99.7 115.7,99.4 115.8,99.2 114.7,94.4 121.5,89.7 119.9,87.6 118,86.2 116.6,85.8 118.6,78.3 116.4,76.9 118.6,69.8 117.5,69.2 114.8,67 111.3,65 111.3,65.1 112.9,66.9 112.2,75.9 111.4,76.5 110,84.8 104.6,85.5 102.5,84.4ZM123.4,63.4 122.5,61.7 119.7,57.1 117,57.8 112.2,62.7 113.2,62.4 115.9,64.3 119.2,65.4 123,65.1 123.4,65.2ZM141.7,40.3 140.7,40.9 136.9,39.6 135.3,38.4 129.8,39.3 126.9,43 125.5,43.7 124.4,51.7 126.8,52.6 132.6,51.4 138,53 140.3,56 142,54.3 145.2,52.4 147.1,50.5 150.9,49.8 152.2,48.5 151.5,47.4ZM160.2,44 164.3,43.5 167.5,42.8 168.7,39.6 166.2,37.7 162.4,38.4 160.6,38.7Z"/><path fill="#ffff00" d="M53.3,65.1 56.6,70 62,67.9 62.9,64.6 62.5,62.4 59.2,63.3 55.5,64 53.7,64.4Z"/><path fill="#00c300" d="M82.7,56.9 82.1,56.3 79.6,58.5 75,59.6 74.7,59.6 76.7,62.6 79.8,64 80.8,63 82.3,60.6 82.9,59.8ZM60.1,74.3 59.3,78.6 60.5,80 63.2,83.2 66.8,85.5 71.4,85.9 75.9,85.5 80.5,85.9 84.1,86.4 85.5,87.7 88.1,83.7 97.2,83.7 96.5,79.3 100.4,73.4 98.7,69.2 96.7,68.3 93.8,69.7 87.7,66.9 83.5,70.4 84.2,76 80,77.7 79.4,77.5 72,75.3 71.2,73.8 68.8,73.8 67.1,74.2 62.2,73.2ZM115.8,99.2 115.7,99.4 124.3,103.6 125.9,102.6 123.3,93.3 122.8,92.6Z"/><path fill="#ff9000" d="M120.2,50.3 123.2,52.2 119.7,57.1 122.5,61.7 123.4,63.4 123.4,65.2 126.8,65.9 129,65.9 131.2,63.2 133.4,61.5 135,60.5 136.9,58.7 139.5,56.8 140.3,56 138,53 132.6,51.4 126.8,52.6 124.4,51.7 125.5,43.7 122,41.2 118.5,40.1 118.4,40.2 115.6,41.3 113.5,42.9 111.6,45 111.8,46.3 111.2,50 111.8,50.3ZM116.4,76.9 118.6,78.3 116.6,85.8 118,86.2 119.9,87.6 121.5,89.7 114.7,94.4 115.8,99.2 122.8,92.6 123,91.2 129.6,88.7 131.1,89.6 130.7,88.4 131.8,85.7 134.9,84.7 135.4,82.6 133.3,81 131.2,82 128.6,81 126.5,79.4 125.9,78.5 125.7,75.7 125.2,73 123,71.4 120.3,70.8 118.6,69.8ZM111.3,65 110.5,64.5 110.2,63.2 111.9,62.7 107.7,54.9 106.6,53.5 104.2,54 97,53 95,57.6 96,59.6 96.7,68.3 98.7,69.2 107.4,65.7 107.6,65.7 111.3,65.1ZM79.9,68.3 77.4,69.1 72.8,70.1 72.7,70.1 71.2,73.8 72,75.3 79.4,77.5 80,77.7 84.2,76 83.5,70.4ZM160.6,38.7 158.5,39 154.7,37.1 150.9,35.8 147.1,36.5 143.9,39 141.7,40.3 151.5,47.4 152.2,48.5 152.8,47.9 156,45.4 159.8,44.1 160.2,44Z"/><path fill="none" stroke="#b4b4b4" stroke-width="0.5" d="M104.9,97.3 111.5,98.1 114.8,98.1 115.6,100.6 116.4,103.9 115.6,106.3 113.9,108.8 112.3,111.2 111.5,109.6 109,108.8 106.6,106.3 104.9,103.9 104.1,99.8ZM132.3,94.1 133.6,95.7 138.5,96.5 140.2,98.1 139.3,101.4 137.7,104.7 135.2,108 132,111.2 127,112.9 123,113.7 119.7,112.9 116.4,111.2 116.4,110.4 119.7,108 121.3,105.5 123.8,103.9 127.9,101.4 131.1,98.1 131.8,96Z"/></g><rect x="368.4" y="278.2" width="167.3" height="115.9" fill="none" stroke="#8a8a8a" stroke-width="0.9"/><line x1="413.6" y1="277.0" x2="413.6" y2="279.2" stroke="#444" stroke-width="0.6"/><text x="413.6" y="275.8" class="tk" text-anchor="middle">110°E</text><line x1="460.1" y1="277.0" x2="460.1" y2="279.2" stroke="#444" stroke-width="0.6"/><text x="460.1" y="275.8" class="tk" text-anchor="middle">115°E</text><line x1="506.6" y1="277.0" x2="506.6" y2="279.2" stroke="#444" stroke-width="0.6"/><text x="506.6" y="275.8" class="tk" text-anchor="middle">120°E</text><line x1="534.7" y1="284.7" x2="536.9" y2="284.7" stroke="#444" stroke-width="0.6"/><text transform="translate(541.5 285.3) rotate(-90)" class="tk" text-anchor="middle">40°N</text><line x1="534.7" y1="331.7" x2="536.9" y2="331.7" stroke="#444" stroke-width="0.6"/><text transform="translate(541.5 332.3) rotate(-90)" class="tk" text-anchor="middle">35°N</text><line x1="534.7" y1="378.6" x2="536.9" y2="378.6" stroke="#444" stroke-width="0.6"/><text transform="translate(541.5 379.2) rotate(-90)" class="tk" text-anchor="middle">30°N</text><g transform="translate(378.8 288.8)"><circle r="5.1" fill="none" stroke="#3a3a3a" stroke-width="0.95"/><path d="M0,-5L0.55,-0.55L5,0L0.55,0.55L0,5L-0.55,0.55L-5,0L-0.55,-0.55Z" fill="#333"/><path d="M-3.6,-3.6L3.6,3.6M3.6,-3.6L-3.6,3.6" stroke="#555" stroke-width="0.5"/><text y="-7.1" class="cp" text-anchor="middle">N</text><text y="9.6" class="cp" text-anchor="middle">S</text><text x="8.0" y="1.1" class="cp" text-anchor="middle">E</text><text x="-8.6" y="1.1" class="cp" text-anchor="middle">W</text></g><text x="502.5" y="289.1" class="yr" text-anchor="middle">2009</text><rect x="484.66" y="390.00" width="41.87" height="2.2" fill="#fff" stroke="#111" stroke-width="0.45"/><rect x="484.66" y="390.00" width="8.37" height="2.2" fill="#000"/><rect x="501.41" y="390.00" width="8.37" height="2.2" fill="#000"/><rect x="518.16" y="390.00" width="8.37" height="2.2" fill="#000"/><text x="484.7" y="388.4" class="sb" text-anchor="middle">0</text><text x="493.0" y="388.4" class="sb" text-anchor="middle">100</text><text x="501.4" y="388.4" class="sb" text-anchor="middle">200</text><text x="509.8" y="388.4" class="sb" text-anchor="middle">300</text><text x="518.2" y="388.4" class="sb" text-anchor="middle">400</text><text x="526.5" y="388.4" class="sb" text-anchor="middle">500</text><text x="527.7" y="392.1" class="sb">km</text><text x="405.9" y="337.2" class="pv" text-anchor="middle">Shanxi</text><text x="446.5" y="343.7" class="pv" text-anchor="middle">Henan</text><text x="489.6" y="323.7" class="pv" text-anchor="middle">Shandong</text><text x="482.7" y="358.7" class="pv" text-anchor="middle">Anhui</text><g transform="matrix(0.9805 0 0 0.9940 119.67 395.85)"><path fill="#ff4b00" d="M84.3,68.3 86.7,67.7 88,66.4 88.1,64.8 84.5,61.2 81,63 77.7,64.4 77.7,68.2 80.8,69.4ZM48.4,80.8 43,80.8 39.2,73.1 32.7,73.1 30.6,76.1 27.7,75.6 21.3,70.8 17.4,70.8 17.7,71.3 16.5,73.6 13,74.2 10.6,76 10,79 7.7,81.3 9.5,82.5 14.2,82.5 21.3,83.7 26.6,84.3 29.6,86.6 34.3,87.8 39,90.2 42.6,92 46.1,91.4 45.5,87.8 47.3,85.5 50.8,83.1 48.6,80.8ZM111,48.8 118.1,51.7 118.3,51.9 119.4,51.7 125.2,52.1 126.5,50.7 126.5,45.7 123,42.4 121.8,39.2 119.9,37.2 115.2,40.7 114.8,41.3 113.5,42.6 112.1,44.8 111.7,45.1ZM107.8,67.4 112.6,66 112.6,65.7 110.5,64.5 110.2,63.2 112.6,62.6 113,60.1 107.2,53.5 105.9,53.5 105.4,53.6 97.3,52.5 95.7,55.6 95.7,59 99,64.1 101.2,64.1Z"/><path fill="#6add00" d="M105.8,42.1 111.7,45.1 112.1,44.8 113.5,42.6 114.8,41.3 115.2,40.7 119.9,37.2 119,33.2 117.8,33.9 112.7,35.2 108.8,37.3 105.4,39.6 104.4,40.8ZM27.7,75.6 30.6,76.1 32.7,73.1 31.9,67.7 35.8,62.7 34.6,58.3 32.3,58.5 27.9,59.3 24.8,61.8 20.7,61.2 16.5,61.8 15.4,63.6 17.7,65.4 16,68.3 17.4,70.8 21.3,70.8ZM86.7,67.7 84.3,68.3 80.8,69.4 83.4,77 85.9,77.5 86.2,77.2ZM103.5,74 100.9,74.4 98,80.3 98,81.4 101.1,85.2 103.5,85.8 104.8,87.1 111.8,87.7 113.2,90.2 122.4,88.1 122.1,86 114.6,82.2 114.2,80.5 108.2,79.6 106.4,76ZM121.8,59.5 121.6,59.5 115.3,58.6 113,60.1 112.6,62.6 113.2,62.4 115.9,64.3 119.2,65.4 122.5,65.1ZM112.6,66 112.6,66.1 114.1,66.6 112.6,65.7ZM125.4,80.8 131.2,87.2 131.8,85.7 134.9,84.7 135.4,82.6 133.3,81 131.2,82 128.6,81 126.5,79.4 126.2,78.9Z"/><path fill="#fa0500" d="M35.8,62.7 41.9,64.8 45,58.5 46.2,58.5 53.7,50.9 53.7,50.9 54.5,44.4 55.5,39.9 56.8,37 56.1,34.9 55,32 56.1,29.8 57.4,26.9 58.9,24.1 60.7,21.5 60,19.4 58.2,19.7 56.7,20.8 54.6,21.5 52.4,20.8 51.3,20.1 50.3,21.2 48.4,23.4 46.6,25.4 43.7,27.6 40.8,30.5 39.7,32.7 38.3,34.9 37.7,35.5 34.3,37 31.5,36.5 29.1,35 26.2,35.5 24.3,37.4 24.3,40.8 26.7,43.1 30.5,44.1 34.3,45.5 36.3,47.3 35.9,53.1 36.6,56.7 35.9,58.2 34.6,58.3ZM48.6,80.8 48.5,80.7 50.8,79.6 58.6,77.7 59.2,78.5 61,73.5 58.1,72 52.5,66.5 51.6,67.1 51.2,67.2 45.8,72.7 41.1,71.1 39.2,73.1 43,80.8 48.4,80.8Z"/><path fill="#00c300" d="M84.5,61.2 84.2,57.8 84.2,56.9 82.9,55.6 79.6,58.5 75.6,59.4 76,61.5 76.1,62.3 77.7,64.4 81,63ZM51.2,67.2 42.3,65.4 41.9,64.8 35.8,62.7 31.9,67.7 32.7,73.1 39.2,73.1 41.1,71.1 45.8,72.7ZM72.3,74.6 71.6,74.6 68.2,74.1 63.8,72 62,73 61,73.5 59.2,78.5 60.5,80 63.2,83.2 66.8,85.5 71.4,85.9 75.9,85.5 80.5,85.9 84.1,86.4 85.5,87.7 85.5,88 88.1,84 91.4,84 98,81.4 98,80.3 100.9,74.4 103.5,74 106.4,76 108.2,79.6 114.2,80.5 114.6,82.2 122.1,86 124.5,81.8 125.4,80.8 126.2,78.9 125.9,78.5 125.7,75.7 125.6,75.2 116.3,77.6 115.3,78.4 115.2,78.5 111.9,73.5 112.6,66.1 112.6,66 107.8,67.4 101.2,64.1 99,64.1 97.2,69.7 93.2,70.4 88,66.4 86.7,67.7 86.2,77.2 85.9,77.5 83.4,77 80.5,78 72.6,75.1 72.3,74.6ZM123.4,89.8 123.1,91.9 124,95.1 125.1,95.2 131.4,97.3 131.8,96 132.3,94.1 131.8,91.5 130.9,88.8Z"/><path fill="#ff9000" d="M84.2,56.9 88.6,55.6 95.7,55.6 97.3,52.5 96.7,50.3 93.9,49.9 88.2,49.3 84.2,49.9 83.6,55 82.9,55.6ZM46.2,58.5 45,58.5 41.9,64.8 42.3,65.4 51.2,67.2 51.6,67.1 52.5,66.5 53.6,64.4 52.3,64.7 52.6,61.8 54.1,58.2 54.8,54.5 53.7,50.9ZM64.1,62.1 63.8,72 68.2,74.1 71.6,74.6 72.3,74.6 72.3,74.6 72.6,75.1 80.5,78 83.4,77 80.8,69.4 77.7,68.2 77.7,64.4 76.1,62.3 72.9,63.1 66.5,63.1 64.7,62.4ZM133.8,52.2 133.6,58.9 134.1,61.1 135,60.5 136.9,58.7 139.5,56.8 142,54.3 142.1,54.2 136.2,51.2ZM155.5,45.8 156,45.4 159.8,44.1 164.3,43.5 167.5,42.8 168.7,39.6 166.2,37.7 162.4,38.4 158.5,39 156.8,38.1ZM113.2,90.2 113.2,91.3 114.3,93.8 114.3,98.1 114.8,98.1 115.6,100.6 116.4,103.9 115.6,106.3 113.9,108.8 112.3,111.2 113.9,112 116.4,110.4 119.7,108 121.3,105.5 123.8,103.9 125.6,102.8 123.4,96.8 124,95.1 123.1,91.9 123.4,89.8 122.4,88.1Z"/><path fill="#ffd500" d="M108,52.8 111,48.8 111.7,45.1 105.8,42.1 104.4,40.8 103.1,42.4 100.2,45.9 100.8,48.7 98.5,50.5 96.7,50.3 97.3,52.5 105.4,53.6 105.9,53.5 107.2,53.5ZM122.5,65.1 123,65.1 126.8,65.9 129,65.9 131.2,63.2 133.4,61.5 134.1,61.1 133.6,58.9 133.8,52.2 136.2,51.2 142.1,54.2 145.2,52.4 147.1,50.5 150.9,49.8 152.8,47.9 155.5,45.8 156.8,38.1 154.7,37.1 150.9,35.8 147.1,36.5 143.9,39 140.7,40.9 136.9,39.6 134.4,37.7 134.4,35.2 133.1,32.6 128,32.6 123.5,31.4 121,32 119,33.2 119.9,37.2 121.8,39.2 123,42.4 126.5,45.7 126.5,50.7 125.2,52.1 119.4,51.7 118.3,51.9 117.6,52.8 115.3,58.6 121.6,59.5 121.8,59.5ZM99,64.1 95.7,59 88.1,64.8 88,66.4 93.2,70.4 97.2,69.7ZM52.5,66.5 58.1,72 61,73.5 62,73 56.3,63.8 55.5,64 53.6,64.4ZM114.3,93.8 113.2,91.3 113.2,90.2 111.8,87.7 104.8,87.1 103.5,85.8 101.1,85.2 98,81.4 91.4,84 88.1,84 85.5,88 85.5,90.5 88.6,91.8 95.1,92.2 97.1,93.5 100.3,93.6 101.8,95.7 104.9,97.3 111.5,98.1 114.3,98.1Z"/><path fill="#ffff00" d="M62,73 63.8,72 64.1,62.1 64,62 59.2,63.3 56.3,63.8Z"/><path fill="#d8f200" d="M111,48.8 108,52.8 107.2,53.5 113,60.1 115.3,58.6 117.6,52.8 118.3,51.9 118.1,51.7ZM76.1,62.3 76,61.5 75.6,59.4 75,59.6 69.9,59.6 66.5,61.9 65,61.8 64,62 64.1,62.1 64.7,62.4 66.5,63.1 72.9,63.1ZM95.7,59 95.7,55.6 88.6,55.6 84.2,56.9 84.2,57.8 84.5,61.2 88.1,64.8ZM116.3,77.6 125.6,75.2 125.2,73 123,71.4 120.3,70.8 117.5,69.2 114.8,67 114.1,66.6 112.6,66.1 111.9,73.5 115.2,78.5 115.3,78.4ZM125.4,80.8 124.5,81.8 122.1,86 122.4,88.1 123.4,89.8 130.9,88.8 130.7,88.4 131.2,87.2ZM124,95.1 123.4,96.8 125.6,102.8 127.9,101.4 131.1,98.1 131.4,97.3 125.1,95.2Z"/><path fill="none" stroke="#b4b4b4" stroke-width="0.5" d="M104.9,97.3 111.5,98.1 114.8,98.1 115.6,100.6 116.4,103.9 115.6,106.3 113.9,108.8 112.3,111.2 111.5,109.6 109,108.8 106.6,106.3 104.9,103.9 104.1,99.8ZM132.3,94.1 133.6,95.7 138.5,96.5 140.2,98.1 139.3,101.4 137.7,104.7 135.2,108 132,111.2 127,112.9 123,113.7 119.7,112.9 116.4,111.2 116.4,110.4 119.7,108 121.3,105.5 123.8,103.9 127.9,101.4 131.1,98.1 131.8,96Z"/></g><rect x="123.3" y="404.3" width="165.5" height="115.2" fill="none" stroke="#8a8a8a" stroke-width="0.9"/><line x1="168.0" y1="403.1" x2="168.0" y2="405.3" stroke="#444" stroke-width="0.6"/><text x="168.0" y="401.9" class="tk" text-anchor="middle">110°E</text><line x1="214.0" y1="403.1" x2="214.0" y2="405.3" stroke="#444" stroke-width="0.6"/><text x="214.0" y="401.9" class="tk" text-anchor="middle">115°E</text><line x1="260.0" y1="403.1" x2="260.0" y2="405.3" stroke="#444" stroke-width="0.6"/><text x="260.0" y="401.9" class="tk" text-anchor="middle">120°E</text><line x1="287.8" y1="410.8" x2="290.0" y2="410.8" stroke="#444" stroke-width="0.6"/><text transform="translate(294.6 411.4) rotate(-90)" class="tk" text-anchor="middle">40°N</text><line x1="287.8" y1="457.4" x2="290.0" y2="457.4" stroke="#444" stroke-width="0.6"/><text transform="translate(294.6 458.0) rotate(-90)" class="tk" text-anchor="middle">35°N</text><line x1="287.8" y1="504.1" x2="290.0" y2="504.1" stroke="#444" stroke-width="0.6"/><text transform="translate(294.6 504.7) rotate(-90)" class="tk" text-anchor="middle">30°N</text><g transform="translate(133.7 414.9)"><circle r="5.1" fill="none" stroke="#3a3a3a" stroke-width="0.95"/><path d="M0,-5L0.55,-0.55L5,0L0.55,0.55L0,5L-0.55,0.55L-5,0L-0.55,-0.55Z" fill="#333"/><path d="M-3.6,-3.6L3.6,3.6M3.6,-3.6L-3.6,3.6" stroke="#555" stroke-width="0.5"/><text y="-7.1" class="cp" text-anchor="middle">N</text><text y="9.6" class="cp" text-anchor="middle">S</text><text x="8.0" y="1.1" class="cp" text-anchor="middle">E</text><text x="-8.6" y="1.1" class="cp" text-anchor="middle">W</text></g><text x="256.8" y="415.0" class="yr" text-anchor="middle">2010</text><rect x="238.31" y="515.43" width="41.42" height="2.2" fill="#fff" stroke="#111" stroke-width="0.45"/><rect x="238.31" y="515.43" width="8.28" height="2.2" fill="#000"/><rect x="254.88" y="515.43" width="8.28" height="2.2" fill="#000"/><rect x="271.45" y="515.43" width="8.28" height="2.2" fill="#000"/><text x="238.3" y="513.8" class="sb" text-anchor="middle">0</text><text x="246.6" y="513.8" class="sb" text-anchor="middle">100</text><text x="254.9" y="513.8" class="sb" text-anchor="middle">200</text><text x="263.2" y="513.8" class="sb" text-anchor="middle">300</text><text x="271.4" y="513.8" class="sb" text-anchor="middle">400</text><text x="279.7" y="513.8" class="sb" text-anchor="middle">500</text><text x="280.9" y="517.5" class="sb">km</text><text x="160.4" y="462.9" class="pv" text-anchor="middle">Shanxi</text><text x="200.6" y="469.4" class="pv" text-anchor="middle">Henan</text><text x="243.2" y="449.5" class="pv" text-anchor="middle">Shandong</text><text x="236.3" y="484.3" class="pv" text-anchor="middle">Anhui</text><rect x="328.8" y="413.0" width="17.2" height="8" fill="#00a800"/><text x="349.2" y="419.9" class="lg">&lt;= −20%</text><rect x="328.8" y="424.7" width="17.2" height="8" fill="#00c000"/><text x="349.2" y="431.6" class="lg">−20% – −15%</text><rect x="328.8" y="436.4" width="17.2" height="8" fill="#60d200"/><text x="349.2" y="443.3" class="lg">−15% – −10%</text><rect x="328.8" y="448.1" width="17.2" height="8" fill="#b0eb00"/><text x="349.2" y="455.0" class="lg">−10% – −5%</text><rect x="328.8" y="459.8" width="17.2" height="8" fill="#ffff00"/><text x="349.2" y="466.7" class="lg">−5% – 0%</text><rect x="328.8" y="471.5" width="17.2" height="8" fill="#ffc000"/><text x="351.0" y="478.4" class="lg">0% – 5%</text><rect x="328.8" y="483.2" width="17.2" height="8" fill="#ff8800"/><text x="351.0" y="490.1" class="lg">5% – 10%</text><rect x="328.8" y="494.9" width="17.2" height="8" fill="#ff4000"/><text x="351.0" y="501.8" class="lg">10% – 15%</text><rect x="328.8" y="506.6" width="17.2" height="8" fill="#ff0000"/><text x="351.0" y="513.5" class="lg">&gt;= 20%</text>
</svg></body></html>
